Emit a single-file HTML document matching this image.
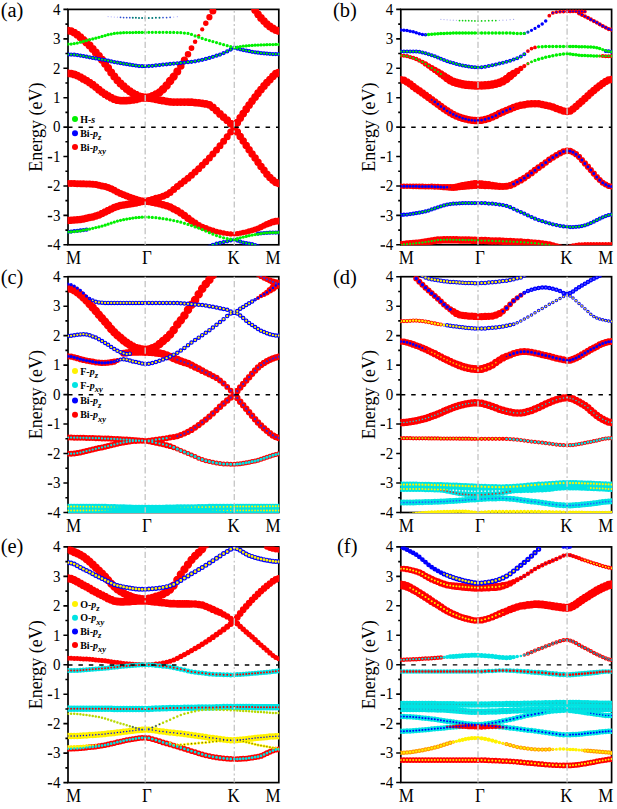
<!DOCTYPE html>
<html><head><meta charset="utf-8"><style>
html,body{margin:0;padding:0;background:#fff;}
svg{display:block;}
text{font-family:"Liberation Serif",serif;fill:#000;}
.tl{font-size:15px;text-anchor:end;}
.xl{font-size:17px;text-anchor:middle;}
.yl{font-size:18px;text-anchor:middle;}
.pl{font-size:20.5px;}
.lg{font-size:10px;font-weight:bold;}
.lg tspan.i{font-style:italic;}
</style></head><body>
<svg width="617" height="809" viewBox="0 0 617 809">
<clipPath id="clipa"><rect x="67.5" y="8.9" width="211.8" height="236.4"/></clipPath>
<rect x="68.0" y="9.4" width="210.8" height="235.4" fill="none" stroke="#000" stroke-width="1.7"/>
<g clip-path="url(#clipa)" stroke-linecap="round" fill="none"><path d="M198.7 35.5h0" stroke="#ff0000" stroke-width="3.25"/>
<path d="M202.2 29.4h0" stroke="#ff0000" stroke-width="4.25"/>
<path d="M195.1 41.7h0" stroke="#ff0000" stroke-width="4.5"/>
<path d="M234.3 233.9h0" stroke="#ff0000" stroke-width="5"/>
<path d="M227.2 233.5h0M230.7 233.9h0M237.3 233.7h0M240.2 233.2h0" stroke="#ff0000" stroke-width="5.25"/>
<path d="M205.8 23.3h0M220.0 232.3h0M223.6 232.9h0M243.2 232.6h0M246.2 231.9h0" stroke="#ff0000" stroke-width="5.5"/>
<path d="M191.5 48.1h0M216.5 231.5h0M249.1 231.1h0M252.1 230.3h0" stroke="#ff0000" stroke-width="5.75"/>
<path d="M212.9 230.6h0M255.1 229.5h0M258.0 228.4h0" stroke="#ff0000" stroke-width="6"/>
<path d="M209.4 17.2h0M209.4 229.5h0M261.0 227.0h0M264.0 225.6h0" stroke="#ff0000" stroke-width="6.25"/>
<path d="M188.0 54.3h0M202.2 226.9h0M205.8 228.3h0M266.9 224.2h0" stroke="#ff0000" stroke-width="6.5"/>
<path d="M198.7 225.3h0M269.9 223.0h0M272.9 221.9h0" stroke="#ff0000" stroke-width="6.75"/>
<path d="M212.9 11.1h0M68.0 183.6h0M71.1 183.6h0M74.2 183.6h0M77.3 183.7h0M80.4 183.7h0M83.4 183.8h0M86.5 183.9h0M89.6 184.0h0M92.7 184.2h0M95.8 184.6h0M98.9 185.2h0M102.0 185.9h0M105.1 186.6h0M108.1 187.5h0M111.2 188.7h0M114.3 190.3h0M117.4 192.0h0M120.5 193.5h0M123.6 194.8h0M126.7 196.1h0M129.8 197.2h0M132.8 198.3h0M135.9 199.3h0M139.0 200.3h0M142.1 201.1h0M145.2 201.3h0M148.8 200.6h0M152.3 199.5h0M155.9 198.3h0M159.5 197.4h0M163.0 196.3h0M166.6 194.8h0M170.1 192.5h0M173.7 189.6h0M177.3 186.6h0M180.8 183.8h0M184.4 181.1h0M188.0 178.2h0M191.5 175.2h0M195.1 172.1h0M198.7 168.8h0M202.2 165.3h0M205.8 161.7h0M209.4 158.0h0M212.9 154.1h0M216.5 150.1h0M220.0 145.8h0M223.6 141.3h0M227.2 136.8h0M230.7 132.0h0M234.3 127.1h0M195.1 223.1h0M275.8 221.2h0M278.8 221.0h0" stroke="#ff0000" stroke-width="7"/>
<path d="M184.4 60.2h0M191.5 220.8h0" stroke="#ff0000" stroke-width="7.25"/>
<path d="M180.8 65.9h0M68.0 220.4h0M71.1 220.3h0M74.2 220.1h0M77.3 219.8h0M80.4 219.4h0M83.4 218.9h0M86.5 218.3h0M89.6 217.6h0M92.7 216.9h0M95.8 216.0h0M98.9 214.9h0M102.0 213.5h0M105.1 212.0h0M108.1 210.4h0M111.2 208.9h0M114.3 207.5h0M117.4 206.4h0M120.5 205.6h0M123.6 205.0h0M126.7 204.5h0M129.8 204.1h0M132.8 203.6h0M135.9 203.0h0M139.0 202.2h0M142.1 201.6h0M145.2 201.3h0M148.8 201.5h0M152.3 202.2h0M155.9 203.0h0M159.5 203.8h0M163.0 204.7h0M166.6 205.7h0M170.1 207.1h0M173.7 208.9h0M177.3 210.8h0M180.8 213.0h0M184.4 215.6h0M188.0 218.3h0M234.3 127.1h0M237.3 131.9h0M240.2 136.5h0M243.2 141.0h0M246.2 145.4h0M249.1 149.7h0M252.1 153.9h0M255.1 158.0h0M258.0 162.3h0M261.0 166.4h0M264.0 170.3h0M266.9 174.2h0M269.9 177.5h0M272.9 180.3h0M275.8 182.6h0M278.8 183.6h0" stroke="#ff0000" stroke-width="7.5"/>
<path d="M68.0 30.6h0M71.1 31.1h0M74.2 32.6h0M77.3 34.7h0M80.4 37.2h0M83.4 39.8h0M68.0 73.3h0M71.1 73.6h0M74.2 74.4h0M77.3 75.6h0M80.4 77.1h0M83.4 78.9h0M86.5 80.6h0M89.6 82.5h0M92.7 84.7h0M95.8 87.1h0M98.9 89.7h0M102.0 92.1h0M105.1 94.2h0M108.1 95.9h0M111.2 97.7h0M114.3 99.2h0M117.4 100.2h0M120.5 100.6h0M123.6 100.7h0M126.7 100.5h0M129.8 100.3h0M132.8 99.9h0M135.9 99.4h0M139.0 98.6h0M142.1 97.9h0M145.2 97.7h0M148.8 98.0h0M152.3 98.6h0M155.9 99.3h0M159.5 100.0h0M163.0 100.7h0M166.6 101.3h0M170.1 101.8h0M173.7 102.0h0M177.3 102.1h0M180.8 102.1h0M184.4 102.0h0M188.0 102.1h0M191.5 102.2h0M195.1 102.5h0M198.7 102.8h0M202.2 103.3h0M205.8 103.9h0M209.4 104.8h0M212.9 107.3h0M216.5 110.6h0M220.0 113.9h0M223.6 117.0h0M227.2 120.2h0M230.7 123.6h0M234.3 127.1h0M234.3 127.1h0M237.3 122.5h0M240.2 117.9h0M243.2 113.5h0M246.2 109.2h0M249.1 105.0h0M252.1 101.0h0M255.1 97.0h0M258.0 93.2h0M261.0 89.5h0M264.0 85.9h0M266.9 82.6h0M269.9 79.5h0M272.9 76.3h0M275.8 73.7h0M278.8 72.7h0M252.1 5.3h0M255.1 10.1h0M258.0 14.3h0M261.0 17.9h0M264.0 21.1h0M266.9 24.0h0M269.9 26.4h0M272.9 28.4h0M275.8 30.1h0M278.8 30.9h0" stroke="#ff0000" stroke-width="7.75"/>
<path d="M86.5 42.5h0M89.6 45.6h0M92.7 48.9h0M95.8 52.5h0M98.9 56.1h0M102.0 59.8h0M105.1 63.8h0M108.1 68.1h0M111.2 72.4h0M114.3 76.5h0M117.4 80.2h0M120.5 83.4h0M123.6 86.3h0M126.7 89.0h0M129.8 91.3h0M132.8 93.3h0M135.9 94.8h0M139.0 96.2h0M177.3 71.4h0" stroke="#ff0000" stroke-width="8"/>
<path d="M142.1 97.2h0M145.2 97.7h0M148.8 97.3h0M152.3 96.1h0M155.9 94.4h0M159.5 92.4h0M173.7 76.6h0" stroke="#ff0000" stroke-width="8.25"/>
<path d="M163.0 89.3h0M166.6 85.4h0M170.1 81.1h0" stroke="#ff0000" stroke-width="8.5"/>
<path d="M68.0 54.4h0M71.1 54.5h0M74.2 54.7h0M77.3 55.1h0M80.4 55.5h0M83.4 56.1h0M86.5 56.7h0M89.6 57.3h0M92.7 57.9h0M95.8 58.4h0M98.9 59.0h0M102.0 59.5h0M105.1 60.1h0M108.1 60.7h0M111.2 61.4h0M114.3 62.0h0M117.4 62.6h0M120.5 63.2h0M123.6 63.7h0M126.7 64.2h0M129.8 64.7h0M132.8 65.2h0M135.9 65.6h0M139.0 66.0h0M142.1 66.2h0M145.2 66.2h0M148.8 66.0h0M152.3 65.8h0M155.9 65.4h0M159.5 65.0h0M163.0 64.6h0M166.6 64.3h0M170.1 63.9h0M173.7 63.6h0M177.3 63.3h0M180.8 62.9h0M184.4 62.6h0M188.0 62.2h0M191.5 61.8h0M195.1 61.3h0M198.7 60.6h0M202.2 59.8h0M205.8 58.9h0M209.4 57.9h0M212.9 56.8h0M216.5 55.7h0M220.0 54.5h0M223.6 53.1h0M227.2 51.4h0M230.7 49.6h0M234.3 47.7h0M234.3 47.7h0M237.3 48.5h0M240.2 49.3h0M243.2 50.0h0M246.2 50.6h0M249.1 51.2h0M252.1 51.8h0M255.1 52.3h0M258.0 52.7h0M261.0 53.0h0M264.0 53.3h0M266.9 53.5h0M269.9 53.8h0M272.9 54.0h0M275.8 54.1h0M278.8 54.1h0M68.0 231.9h0M71.1 231.5h0M74.2 231.1h0M77.3 230.8h0M80.4 230.4h0M83.4 230.0h0M86.5 229.7h0M209.4 246.5h0M212.9 244.8h0M216.5 243.6h0M220.0 242.8h0M223.6 242.0h0M227.2 241.3h0M230.7 240.4h0M234.3 239.5h0M234.3 239.5h0M237.3 240.6h0M240.2 241.6h0M243.2 242.5h0M246.2 243.2h0M249.1 243.7h0M252.1 244.2h0M255.1 245.0h0M258.0 246.3h0M261.0 247.8h0M258.0 233.7h0M261.0 233.3h0M264.0 233.0h0M266.9 232.8h0M269.9 232.7h0M272.9 232.5h0M275.8 232.5h0M278.8 232.4h0" stroke="#0000ff" stroke-width="4.25"/>
<path d="M132.8 17.8h0M135.9 17.8h0M139.0 17.9h0M142.1 17.9h0M145.2 17.9h0M148.8 17.9h0M152.3 17.9h0M155.9 17.8h0M159.5 17.7h0" stroke="#007878" stroke-width="2"/>
<path d="M120.5 17.3h0M123.6 17.5h0M126.7 17.6h0M129.8 17.7h0M163.0 17.6h0M166.6 17.5h0M170.1 17.3h0" stroke="#3050d0" stroke-width="1.75"/>
<path d="M108.1 16.6h0M111.2 16.8h0M114.3 17.0h0M117.4 17.2h0M173.7 17.0h0M177.3 16.7h0" stroke="#b0b0ff" stroke-width="1.25"/>
<path d="M234.3 47.7h0M237.3 48.5h0M240.2 49.3h0M243.2 50.0h0M246.2 50.6h0M249.1 51.2h0M252.1 51.8h0M255.1 52.3h0M258.0 52.7h0M261.0 53.0h0M264.0 53.3h0M266.9 53.5h0M269.9 53.8h0M272.9 54.0h0M275.8 54.1h0M278.8 54.1h0M68.0 54.4h0M71.1 54.5h0M74.2 54.7h0M77.3 55.1h0M80.4 55.5h0M83.4 56.1h0M86.5 56.7h0M89.6 57.3h0M92.7 57.9h0M95.8 58.4h0M98.9 59.0h0M102.0 59.5h0M105.1 60.1h0M108.1 60.7h0M111.2 61.4h0M114.3 62.0h0M117.4 62.6h0M120.5 63.2h0M123.6 63.7h0M126.7 64.2h0M129.8 64.7h0M132.8 65.2h0M135.9 65.6h0M139.0 66.0h0M142.1 66.2h0M145.2 66.2h0M148.8 66.0h0M152.3 65.8h0M155.9 65.4h0M159.5 65.0h0M163.0 64.6h0M166.6 64.3h0M170.1 63.9h0M173.7 63.6h0M177.3 63.3h0M180.8 62.9h0M184.4 62.6h0M188.0 62.2h0M191.5 61.8h0M195.1 61.3h0M198.7 60.6h0M202.2 59.8h0M205.8 58.9h0M209.4 57.9h0M212.9 56.8h0M216.5 55.7h0M220.0 54.5h0M223.6 53.1h0M227.2 51.4h0M230.7 49.6h0M234.3 47.7h0M209.4 246.5h0M212.9 244.8h0M216.5 243.6h0M220.0 242.8h0M223.6 242.0h0M227.2 241.3h0M230.7 240.4h0M234.3 239.5h0M234.3 239.5h0M237.3 240.6h0M240.2 241.6h0M243.2 242.5h0M246.2 243.2h0M249.1 243.7h0M252.1 244.2h0M255.1 245.0h0M258.0 246.3h0M261.0 247.8h0" stroke="#00f000" stroke-width="2.25"/>
<path d="M68.0 44.1h0M71.1 44.0h0M74.2 43.6h0M77.3 43.0h0M80.4 42.2h0M83.4 41.4h0M86.5 40.5h0M89.6 39.7h0M92.7 38.9h0M95.8 38.2h0M98.9 37.3h0M102.0 36.4h0M105.1 35.5h0M108.1 34.7h0M111.2 34.0h0M114.3 33.4h0M117.4 33.0h0M120.5 32.9h0M123.6 32.7h0M126.7 32.6h0M129.8 32.5h0M132.8 32.5h0M135.9 32.4h0M139.0 32.4h0M142.1 32.4h0M145.2 32.4h0M148.8 32.3h0M152.3 32.3h0M155.9 32.3h0M159.5 32.3h0M163.0 32.3h0M166.6 32.3h0M170.1 32.4h0M173.7 32.4h0M177.3 32.5h0M180.8 32.7h0M184.4 33.0h0M188.0 33.4h0M191.5 34.4h0M195.1 35.9h0M198.7 37.2h0M202.2 38.4h0M205.8 39.5h0M209.4 40.5h0M212.9 41.6h0M216.5 42.6h0M220.0 43.7h0M223.6 44.7h0M227.2 45.7h0M230.7 46.7h0M234.3 47.7h0M234.3 47.7h0M237.3 47.1h0M240.2 46.6h0M243.2 46.2h0M246.2 45.9h0M249.1 45.6h0M252.1 45.4h0M255.1 45.2h0M258.0 45.0h0M261.0 44.9h0M264.0 44.8h0M266.9 44.7h0M269.9 44.6h0M272.9 44.5h0M275.8 44.4h0M278.8 44.4h0M68.0 231.9h0M71.1 231.8h0M74.2 231.6h0M77.3 231.2h0M80.4 230.8h0M83.4 230.2h0M86.5 229.6h0M89.6 229.0h0M92.7 228.3h0M95.8 227.6h0M98.9 226.9h0M102.0 226.1h0M105.1 225.2h0M108.1 224.2h0M111.2 223.1h0M114.3 222.1h0M117.4 221.1h0M120.5 220.3h0M123.6 219.7h0M126.7 219.1h0M129.8 218.6h0M132.8 218.1h0M135.9 217.7h0M139.0 217.4h0M142.1 217.2h0M145.2 217.1h0M148.8 217.2h0M152.3 217.4h0M155.9 217.7h0M159.5 218.2h0M163.0 218.7h0M166.6 219.2h0M170.1 219.8h0M173.7 220.5h0M177.3 221.3h0M180.8 222.2h0M184.4 223.3h0M188.0 224.4h0M191.5 225.6h0M195.1 226.9h0M198.7 228.1h0M202.2 229.5h0M205.8 231.1h0M209.4 232.7h0M212.9 234.2h0M216.5 235.5h0M220.0 236.7h0M223.6 237.8h0M227.2 238.6h0M230.7 239.2h0M234.3 239.5h0M234.3 239.5h0M237.3 238.7h0M240.2 237.8h0M243.2 237.1h0M246.2 236.4h0M249.1 235.7h0M252.1 235.1h0M255.1 234.5h0M258.0 234.0h0M261.0 233.5h0M264.0 233.1h0M266.9 232.8h0M269.9 232.7h0M272.9 232.5h0M275.8 232.5h0M278.8 232.4h0" stroke="#00f000" stroke-width="3.25"/></g>
<g><line x1="145.2" y1="9.4" x2="145.2" y2="244.8" stroke="#c8c8c8" stroke-width="1.4" stroke-dasharray="6.2 2.7 1.9 2.5" stroke-dashoffset="7.5"/>
<line x1="234.3" y1="9.4" x2="234.3" y2="244.8" stroke="#c8c8c8" stroke-width="1.4" stroke-dasharray="6.2 2.7 1.9 2.5" stroke-dashoffset="7.5"/>
<line x1="68.0" y1="127.3" x2="278.8" y2="127.3" stroke="#000" stroke-width="1.4" stroke-dasharray="4.5 5.9"/></g>

<circle cx="75.0" cy="118.9" r="3.0" fill="#00f000"/>
<text x="80.2" y="122.5" class="lg">H-<tspan class="i">s</tspan></text>
<circle cx="75.0" cy="133.3" r="3.0" fill="#0000ff"/>
<text x="80.2" y="136.9" class="lg">Bi-<tspan class="i">p</tspan><tspan class="i" dy="3.3" style="font-size:8.5px">z</tspan></text>
<circle cx="75.0" cy="147.1" r="3.0" fill="#ff0000"/>
<text x="80.2" y="150.7" class="lg">Bi-<tspan class="i">p</tspan><tspan class="i" dy="3.3" style="font-size:8.5px">xy</tspan></text>
<path d="M63.4 244.80h4.6M65.4 230.09h2.6M63.4 215.38h4.6M65.4 200.66h2.6M63.4 185.95h4.6M65.4 171.24h2.6M63.4 156.53h4.6M65.4 141.81h2.6M63.4 127.10h4.6M65.4 112.39h2.6M63.4 97.68h4.6M65.4 82.96h2.6M63.4 68.25h4.6M65.4 53.54h2.6M63.4 38.83h4.6M65.4 24.11h2.6M63.4 9.40h4.6" stroke="#000" stroke-width="1.6"/>
<text transform="translate(60.4 250.0) scale(1 1.08)" class="tl">4</text>
<rect x="47.8" y="245.2" width="4.4" height="1.5"/>
<text transform="translate(60.4 220.6) scale(1 1.08)" class="tl">3</text>
<rect x="47.8" y="215.8" width="4.4" height="1.5"/>
<text transform="translate(60.4 191.2) scale(1 1.08)" class="tl">2</text>
<rect x="47.8" y="186.4" width="4.4" height="1.5"/>
<text transform="translate(60.4 161.7) scale(1 1.08)" class="tl">1</text>
<rect x="47.8" y="156.9" width="4.4" height="1.5"/>
<text transform="translate(60.4 132.3) scale(1 1.08)" class="tl">0</text>
<text transform="translate(60.4 102.9) scale(1 1.08)" class="tl">1</text>
<text transform="translate(60.4 73.5) scale(1 1.08)" class="tl">2</text>
<text transform="translate(60.4 44.0) scale(1 1.08)" class="tl">3</text>
<text transform="translate(60.4 14.6) scale(1 1.08)" class="tl">4</text>
<text transform="translate(73.6 264.2) scale(1 1.06)" class="xl">M</text>
<text transform="translate(147.0 264.2) scale(1 1.06)" class="xl">&#915;</text>
<text transform="translate(233.6 264.2) scale(1 1.06)" class="xl">K</text>
<text transform="translate(273.0 264.2) scale(1 1.06)" class="xl">M</text>
<text transform="translate(41.8 127.1) rotate(-90)" class="yl">Energy (eV)</text>
<text x="0.7" y="16.7" class="pl">(a)</text>
<clipPath id="clipb"><rect x="400.3" y="8.9" width="211.8" height="236.4"/></clipPath>
<rect x="400.8" y="9.4" width="210.8" height="235.4" fill="none" stroke="#000" stroke-width="1.7"/>
<g clip-path="url(#clipb)" stroke-linecap="round" fill="none"><path d="M538.6 46.8h0M538.6 59.2h0" stroke="#ff0000" stroke-width="0.5"/>
<path d="M535.0 60.4h0" stroke="#ff0000" stroke-width="1.5"/>
<path d="M531.5 61.9h0" stroke="#ff0000" stroke-width="2.25"/>
<path d="M599.7 56.1h0" stroke="#ff0000" stroke-width="3"/>
<path d="M527.9 63.7h0" stroke="#ff0000" stroke-width="3.25"/>
<path d="M549.3 15.7h0M552.8 12.9h0M556.4 12.0h0M560.0 11.7h0M563.5 11.6h0M567.1 11.4h0M570.1 11.4h0M573.0 11.3h0M576.0 11.3h0M579.0 11.3h0M581.9 11.4h0M584.9 11.6h0M527.9 51.0h0M531.5 48.6h0M535.0 47.4h0" stroke="#ff0000" stroke-width="3.75"/>
<path d="M400.8 55.6h0M403.9 55.8h0M602.7 56.1h0M605.7 56.2h0M608.6 56.2h0M611.6 56.2h0M563.5 248.3h0M567.1 247.1h0M570.1 246.2h0M573.0 245.3h0M576.0 244.7h0M579.0 244.3h0M581.9 244.2h0M584.9 244.1h0M587.9 244.1h0M590.8 244.1h0M593.8 244.0h0M596.8 244.0h0M599.7 244.0h0M602.7 244.0h0M605.7 243.9h0M608.6 243.9h0M611.6 243.9h0" stroke="#ff0000" stroke-width="4"/>
<path d="M579.0 13.3h0M581.9 14.8h0M584.9 16.3h0M587.9 17.8h0M590.8 19.4h0M593.8 21.0h0M596.8 22.6h0M599.7 24.3h0M602.7 26.0h0M605.7 27.5h0M608.6 29.0h0M611.6 29.7h0M407.0 56.2h0M410.1 57.0h0M413.2 57.9h0M524.3 66.0h0" stroke="#ff0000" stroke-width="4.25"/>
<path d="M416.2 59.0h0M419.3 60.4h0" stroke="#ff0000" stroke-width="4.5"/>
<path d="M422.4 62.0h0" stroke="#ff0000" stroke-width="4.75"/>
<path d="M425.5 63.9h0M520.8 68.4h0" stroke="#ff0000" stroke-width="5.25"/>
<path d="M428.6 65.9h0M400.8 186.2h0M403.9 186.2h0M407.0 186.3h0M410.1 186.3h0" stroke="#ff0000" stroke-width="5.5"/>
<path d="M413.2 186.3h0M416.2 186.3h0M419.3 186.4h0M422.4 186.4h0M425.5 186.5h0M428.6 186.5h0" stroke="#ff0000" stroke-width="5.75"/>
<path d="M431.7 67.9h0M431.7 186.6h0M434.8 186.7h0M437.9 186.8h0M440.9 187.0h0M599.7 180.1h0M602.7 182.7h0M605.7 184.6h0M608.6 186.0h0M611.6 186.5h0" stroke="#ff0000" stroke-width="6"/>
<path d="M434.8 69.9h0M444.0 187.2h0M573.0 152.3h0M576.0 154.2h0M579.0 156.8h0M581.9 160.0h0M584.9 163.4h0M587.9 166.7h0M590.8 170.1h0M593.8 173.6h0M596.8 177.0h0" stroke="#ff0000" stroke-width="6.25"/>
<path d="M517.2 70.9h0M447.1 187.3h0M545.7 162.4h0M549.3 159.8h0M552.8 157.4h0M556.4 155.2h0M560.0 153.3h0M563.5 151.6h0M567.1 150.7h0M570.1 151.0h0" stroke="#ff0000" stroke-width="6.5"/>
<path d="M437.9 71.8h0M450.2 187.4h0M517.2 182.1h0M520.8 180.2h0M524.3 178.1h0M527.9 175.6h0M531.5 172.9h0M535.0 170.2h0M538.6 167.6h0M542.2 165.0h0" stroke="#ff0000" stroke-width="6.75"/>
<path d="M453.3 187.4h0M502.9 186.5h0M506.5 186.3h0M510.1 185.4h0M513.6 183.9h0" stroke="#ff0000" stroke-width="7"/>
<path d="M440.9 73.9h0M456.4 187.1h0M499.4 186.3h0" stroke="#ff0000" stroke-width="7.25"/>
<path d="M444.0 76.1h0M513.6 73.4h0M400.8 79.7h0M403.9 80.3h0M407.0 81.9h0M410.1 84.1h0M413.2 86.5h0M416.2 88.7h0M419.3 90.8h0M422.4 93.0h0M425.5 95.2h0M428.6 97.5h0M431.7 99.7h0M434.8 101.9h0M437.9 104.2h0M440.9 106.5h0M444.0 108.7h0M447.1 110.8h0M450.2 112.7h0M453.3 114.4h0M456.4 115.9h0M459.5 117.2h0M462.6 118.3h0M465.6 119.1h0M468.7 119.8h0M471.8 120.3h0M474.9 120.6h0M478.0 120.6h0M481.6 120.2h0M485.1 119.4h0M488.7 118.4h0M492.3 117.1h0M495.8 115.5h0M499.4 113.6h0M502.9 111.9h0M506.5 110.4h0M510.1 108.9h0M513.6 107.5h0M517.2 106.2h0M520.8 105.3h0M524.3 104.7h0M527.9 104.1h0M531.5 103.8h0M535.0 103.7h0M538.6 103.8h0M542.2 104.4h0M545.7 105.2h0M549.3 106.1h0M552.8 107.1h0M556.4 108.4h0M560.0 109.7h0M563.5 110.9h0M567.1 111.5h0M570.1 110.9h0M573.0 109.1h0M576.0 106.5h0M579.0 103.7h0M581.9 101.2h0M584.9 98.5h0M587.9 95.8h0M590.8 93.0h0M593.8 90.4h0M596.8 88.1h0M599.7 85.8h0M602.7 83.5h0M605.7 81.5h0M608.6 80.1h0M611.6 79.5h0M459.5 186.6h0M495.8 185.9h0M400.8 244.8h0M403.9 244.4h0M407.0 244.0h0M410.1 243.8h0M413.2 243.5h0M416.2 243.2h0M419.3 242.9h0M422.4 242.5h0M425.5 242.0h0M428.6 241.5h0M431.7 241.0h0M434.8 240.5h0M437.9 240.1h0M440.9 239.9h0M444.0 239.8h0M447.1 239.7h0M450.2 239.7h0M453.3 239.8h0M456.4 239.8h0M459.5 239.9h0M462.6 239.9h0M465.6 240.0h0M468.7 240.1h0M471.8 240.2h0M474.9 240.3h0M478.0 240.4h0M481.6 240.5h0M485.1 240.6h0M488.7 240.7h0M492.3 240.9h0M495.8 241.0h0M499.4 241.1h0M502.9 241.3h0M506.5 241.4h0M510.1 241.6h0M513.6 241.8h0M517.2 241.9h0M520.8 242.1h0M524.3 242.4h0M527.9 242.6h0M531.5 242.9h0M535.0 243.2h0M538.6 243.6h0M542.2 244.0h0M545.7 244.5h0M549.3 245.0h0M552.8 245.9h0M556.4 246.9h0M560.0 248.1h0" stroke="#ff0000" stroke-width="7.5"/>
<path d="M492.3 185.5h0" stroke="#ff0000" stroke-width="7.75"/>
<path d="M447.1 78.2h0M462.6 186.1h0" stroke="#ff0000" stroke-width="8"/>
<path d="M465.6 185.7h0M488.7 185.2h0" stroke="#ff0000" stroke-width="8.25"/>
<path d="M450.2 80.2h0M453.3 81.7h0M456.4 82.8h0M459.5 83.6h0M462.6 84.3h0M465.6 84.7h0M468.7 85.0h0M471.8 85.3h0M474.9 85.5h0M478.0 85.6h0M481.6 85.5h0M485.1 85.3h0M488.7 84.9h0M492.3 84.6h0M495.8 83.8h0M499.4 82.7h0M502.9 81.3h0M506.5 79.1h0M510.1 76.1h0M468.7 185.3h0M485.1 184.9h0" stroke="#ff0000" stroke-width="8.5"/>
<path d="M471.8 184.9h0M481.6 184.6h0" stroke="#ff0000" stroke-width="8.75"/>
<path d="M474.9 184.6h0" stroke="#ff0000" stroke-width="9"/>
<path d="M478.0 184.5h0" stroke="#ff0000" stroke-width="9.25"/>
<path d="M549.3 15.7h0" stroke="#0000ff" stroke-width="0.5"/>
<path d="M450.2 187.4h0M510.1 185.4h0" stroke="#0000ff" stroke-width="1"/>
<path d="M527.9 51.0h0M513.6 107.5h0" stroke="#0000ff" stroke-width="1.25"/>
<path d="M552.8 12.9h0M556.4 12.0h0M560.0 11.7h0M563.5 11.6h0M567.1 11.4h0M570.1 11.4h0M573.0 11.3h0M576.0 11.3h0M579.0 11.3h0M581.9 11.4h0M584.9 11.6h0M579.0 13.3h0" stroke="#0000ff" stroke-width="1.75"/>
<path d="M428.6 34.6h0M581.9 14.8h0M584.9 16.3h0M431.7 99.7h0" stroke="#0000ff" stroke-width="2"/>
<path d="M587.9 17.8h0" stroke="#0000ff" stroke-width="2.25"/>
<path d="M590.8 19.4h0M593.8 21.0h0M596.8 22.6h0M599.7 24.3h0M602.7 26.0h0M605.7 27.5h0M608.6 29.0h0M611.6 29.7h0M447.1 187.3h0" stroke="#0000ff" stroke-width="2.5"/>
<path d="M434.8 101.9h0M437.9 104.2h0M440.9 106.5h0M444.0 108.7h0M447.1 110.8h0M450.2 112.7h0M453.3 114.4h0M456.4 115.9h0M459.5 117.2h0M462.6 118.3h0M465.6 119.1h0M468.7 119.8h0M471.8 120.3h0M474.9 120.6h0M478.0 120.6h0M481.6 120.2h0M485.1 119.4h0M488.7 118.4h0M492.3 117.1h0M495.8 115.5h0M499.4 113.6h0M502.9 111.9h0M506.5 110.4h0M510.1 108.9h0" stroke="#0000ff" stroke-width="2.75"/>
<path d="M400.8 186.2h0M403.9 186.2h0M407.0 186.3h0M410.1 186.3h0M413.2 186.3h0M416.2 186.3h0M419.3 186.4h0M422.4 186.4h0M425.5 186.5h0M428.6 186.5h0M431.7 186.6h0M434.8 186.7h0M437.9 186.8h0M440.9 187.0h0M444.0 187.2h0M513.6 183.9h0M517.2 182.1h0M520.8 180.2h0M524.3 178.1h0M527.9 175.6h0M531.5 172.9h0M535.0 170.2h0M538.6 167.6h0M542.2 165.0h0M545.7 162.4h0M549.3 159.8h0M552.8 157.4h0M556.4 155.2h0M560.0 153.3h0M563.5 151.6h0M567.1 150.7h0M570.1 151.0h0M573.0 152.3h0M576.0 154.2h0M579.0 156.8h0M581.9 160.0h0M584.9 163.4h0M587.9 166.7h0M590.8 170.1h0M593.8 173.6h0M596.8 177.0h0M599.7 180.1h0M602.7 182.7h0M605.7 184.6h0M608.6 186.0h0M611.6 186.5h0" stroke="#0000ff" stroke-width="3"/>
<path d="M524.3 33.4h0M527.9 32.0h0M531.5 30.3h0M535.0 28.4h0" stroke="#0000ff" stroke-width="3.25"/>
<path d="M400.8 30.0h0M403.9 30.2h0M407.0 30.6h0M410.1 31.2h0M413.2 31.8h0M416.2 32.7h0M419.3 33.7h0M422.4 34.5h0M425.5 34.7h0M538.6 26.3h0M542.2 23.9h0M545.7 20.9h0" stroke="#0000ff" stroke-width="3.5"/>
<path d="M400.8 51.5h0M403.9 51.5h0M407.0 51.5h0M410.1 51.5h0M413.2 51.5h0M416.2 51.5h0M419.3 51.8h0M422.4 52.4h0M425.5 53.3h0M428.6 54.3h0M431.7 55.3h0M434.8 56.3h0M437.9 57.5h0M440.9 58.8h0M444.0 60.1h0M447.1 61.2h0M450.2 62.2h0M453.3 63.0h0M456.4 63.9h0M459.5 64.7h0M462.6 65.4h0M465.6 66.1h0M468.7 66.6h0M471.8 67.0h0M474.9 67.3h0M478.0 67.4h0M481.6 67.2h0M485.1 66.8h0M488.7 66.1h0M492.3 65.3h0M495.8 64.5h0M499.4 63.6h0M502.9 62.7h0M506.5 61.8h0M510.1 60.8h0M513.6 59.5h0M517.2 58.2h0M520.8 56.6h0M524.3 54.2h0M605.7 51.1h0M608.6 51.3h0M611.6 51.7h0" stroke="#0000ff" stroke-width="4"/>
<path d="M400.8 214.8h0M403.9 214.7h0M407.0 214.5h0M410.1 214.1h0M413.2 213.7h0M416.2 213.2h0M419.3 212.7h0M422.4 212.1h0M425.5 211.4h0M428.6 210.5h0M431.7 209.4h0M434.8 208.4h0M437.9 207.3h0M440.9 206.3h0M444.0 205.4h0M447.1 204.6h0M450.2 204.1h0M453.3 203.7h0M456.4 203.5h0M459.5 203.3h0M462.6 203.2h0M465.6 203.1h0M468.7 203.0h0M471.8 203.0h0M474.9 203.0h0M478.0 203.0h0M481.6 203.1h0M485.1 203.2h0M488.7 203.5h0M492.3 203.7h0M495.8 204.1h0M499.4 204.5h0M502.9 205.0h0M506.5 205.9h0M510.1 207.2h0M513.6 208.8h0M517.2 210.5h0M520.8 212.1h0M524.3 213.7h0M527.9 215.4h0M531.5 217.1h0M535.0 218.7h0M538.6 220.0h0M542.2 221.2h0M545.7 222.3h0M549.3 223.3h0M552.8 224.3h0M556.4 225.1h0M560.0 225.8h0M563.5 226.4h0M567.1 226.8h0M570.1 227.0h0M573.0 227.0h0M576.0 226.8h0M579.0 226.5h0M581.9 226.0h0M584.9 225.3h0M587.9 224.3h0M590.8 223.1h0M593.8 221.7h0M596.8 220.2h0M599.7 218.7h0M602.7 217.3h0M605.7 216.0h0M608.6 215.1h0M611.6 214.6h0" stroke="#0000ff" stroke-width="4.25"/>
<path d="M459.5 20.5h0M462.6 20.6h0M465.6 20.7h0M468.7 20.7h0M471.8 20.8h0M474.9 20.9h0M478.0 20.9h0M481.6 20.9h0M485.1 20.8h0M488.7 20.7h0M492.3 20.6h0M495.8 20.5h0" stroke="#10d010" stroke-width="1.75"/>
<path d="M440.9 19.3h0M444.0 19.5h0M447.1 19.8h0M450.2 20.0h0M453.3 20.2h0M456.4 20.3h0M499.4 20.4h0M502.9 20.2h0M506.5 20.0h0M510.1 19.7h0M513.6 19.4h0" stroke="#a8a8f0" stroke-width="1.25"/>
<path d="M444.0 76.1h0" stroke="#00f000" stroke-width="0.75"/>
<path d="M425.5 34.7h0" stroke="#00f000" stroke-width="1.25"/>
<path d="M527.9 32.0h0M400.8 214.8h0M403.9 214.7h0" stroke="#00f000" stroke-width="1.5"/>
<path d="M407.0 214.5h0M410.1 214.1h0" stroke="#00f000" stroke-width="1.75"/>
<path d="M400.8 55.6h0M403.9 55.8h0M407.0 56.2h0M410.1 57.0h0M413.2 57.9h0M416.2 59.0h0M419.3 60.4h0M422.4 62.0h0M425.5 63.9h0M428.6 65.9h0M431.7 67.9h0M434.8 69.9h0M437.9 71.8h0M440.9 73.9h0M413.2 213.7h0M416.2 213.2h0" stroke="#00f000" stroke-width="2"/>
<path d="M400.8 51.5h0M403.9 51.5h0M407.0 51.5h0M410.1 51.5h0M413.2 51.5h0M416.2 51.5h0M419.3 51.8h0M422.4 52.4h0M425.5 53.3h0M428.6 54.3h0M431.7 55.3h0M434.8 56.3h0M437.9 57.5h0M440.9 58.8h0M444.0 60.1h0M447.1 61.2h0M450.2 62.2h0M453.3 63.0h0M456.4 63.9h0M459.5 64.7h0M462.6 65.4h0M465.6 66.1h0M468.7 66.6h0M471.8 67.0h0M474.9 67.3h0M478.0 67.4h0M481.6 67.2h0M485.1 66.8h0M488.7 66.1h0M492.3 65.3h0M495.8 64.5h0M499.4 63.6h0M502.9 62.7h0M506.5 61.8h0M510.1 60.8h0M513.6 59.5h0M517.2 58.2h0M520.8 56.6h0M524.3 54.2h0M527.9 63.7h0M602.7 56.1h0M605.7 56.2h0M608.6 56.2h0M611.6 56.2h0M419.3 212.7h0M422.4 212.1h0M425.5 211.4h0M428.6 210.5h0M431.7 209.4h0M434.8 208.4h0M437.9 207.3h0M440.9 206.3h0M444.0 205.4h0M447.1 204.6h0M450.2 204.1h0M453.3 203.7h0M456.4 203.5h0M459.5 203.3h0M462.6 203.2h0M465.6 203.1h0M468.7 203.0h0M471.8 203.0h0M474.9 203.0h0M478.0 203.0h0M481.6 203.1h0M485.1 203.2h0M488.7 203.5h0M492.3 203.7h0M495.8 204.1h0M499.4 204.5h0M502.9 205.0h0M506.5 205.9h0M510.1 207.2h0M513.6 208.8h0M517.2 210.5h0M520.8 212.1h0M524.3 213.7h0M527.9 215.4h0M531.5 217.1h0M535.0 218.7h0M538.6 220.0h0M542.2 221.2h0M545.7 222.3h0M549.3 223.3h0M552.8 224.3h0M556.4 225.1h0M560.0 225.8h0M563.5 226.4h0M567.1 226.8h0M570.1 227.0h0M573.0 227.0h0M576.0 226.8h0M579.0 226.5h0M581.9 226.0h0M584.9 225.3h0M587.9 224.3h0M590.8 223.1h0M593.8 221.7h0M596.8 220.2h0M599.7 218.7h0M602.7 217.3h0M605.7 216.0h0M608.6 215.1h0M611.6 214.6h0M400.8 244.8h0M403.9 244.4h0M407.0 244.0h0M410.1 243.8h0M413.2 243.5h0M416.2 243.2h0M419.3 242.9h0M422.4 242.5h0M425.5 242.0h0M428.6 241.5h0M431.7 241.0h0M434.8 240.5h0M437.9 240.1h0M440.9 239.9h0M444.0 239.8h0M447.1 239.7h0M450.2 239.7h0M453.3 239.8h0M456.4 239.8h0M459.5 239.9h0M462.6 239.9h0M465.6 240.0h0M468.7 240.1h0M471.8 240.2h0M474.9 240.3h0M478.0 240.4h0M481.6 240.5h0M485.1 240.6h0M488.7 240.7h0M492.3 240.9h0M495.8 241.0h0M499.4 241.1h0M502.9 241.3h0M506.5 241.4h0M510.1 241.6h0M513.6 241.8h0M517.2 241.9h0M520.8 242.1h0M524.3 242.4h0M527.9 242.6h0M531.5 242.9h0M535.0 243.2h0M538.6 243.6h0M542.2 244.0h0M545.7 244.5h0M549.3 245.0h0M552.8 245.9h0M556.4 246.9h0M560.0 248.1h0" stroke="#00f000" stroke-width="2.25"/>
<path d="M599.7 56.1h0" stroke="#00f000" stroke-width="2.5"/>
<path d="M531.5 61.9h0" stroke="#00f000" stroke-width="2.75"/>
<path d="M524.3 33.4h0M605.7 50.4h0M608.6 51.2h0M611.6 51.7h0" stroke="#00f000" stroke-width="3"/>
<path d="M538.6 46.8h0M602.7 49.5h0M535.0 60.4h0" stroke="#00f000" stroke-width="3.25"/>
<path d="M428.6 34.6h0M431.7 34.3h0M434.8 34.0h0M437.9 33.7h0M440.9 33.5h0M444.0 33.4h0M447.1 33.3h0M450.2 33.2h0M453.3 33.1h0M456.4 33.0h0M459.5 32.9h0M462.6 32.9h0M465.6 32.9h0M468.7 32.9h0M471.8 32.9h0M474.9 32.9h0M478.0 32.9h0M481.6 32.9h0M485.1 32.9h0M488.7 32.9h0M492.3 32.9h0M495.8 32.9h0M499.4 32.9h0M502.9 32.9h0M506.5 33.0h0M510.1 33.1h0M513.6 33.3h0M517.2 33.4h0M520.8 33.5h0M542.2 46.7h0M545.7 46.6h0M549.3 46.6h0M552.8 46.5h0M556.4 46.5h0M560.0 46.5h0M563.5 46.5h0M567.1 46.5h0M570.1 46.5h0M573.0 46.6h0M576.0 46.6h0M579.0 46.7h0M581.9 46.7h0M584.9 46.8h0M587.9 46.9h0M590.8 47.0h0M593.8 47.2h0M596.8 47.7h0M599.7 48.5h0M538.6 59.2h0M542.2 58.2h0M545.7 57.3h0M549.3 56.4h0M552.8 55.7h0M556.4 55.1h0M560.0 54.5h0M563.5 54.0h0M567.1 53.8h0M570.1 54.0h0M573.0 54.4h0M576.0 54.8h0M579.0 55.2h0M581.9 55.5h0M584.9 55.6h0M587.9 55.7h0M590.8 55.8h0M593.8 55.9h0M596.8 56.0h0" stroke="#00f000" stroke-width="3.5"/></g>
<g><line x1="478.0" y1="9.4" x2="478.0" y2="244.8" stroke="#c8c8c8" stroke-width="1.4" stroke-dasharray="6.2 2.7 1.9 2.5" stroke-dashoffset="7.5"/>
<line x1="567.1" y1="9.4" x2="567.1" y2="244.8" stroke="#c8c8c8" stroke-width="1.4" stroke-dasharray="6.2 2.7 1.9 2.5" stroke-dashoffset="7.5"/>
<line x1="400.8" y1="127.3" x2="611.6" y2="127.3" stroke="#000" stroke-width="1.4" stroke-dasharray="4.5 5.9"/></g>


<path d="M396.2 244.80h4.6M398.2 230.09h2.6M396.2 215.38h4.6M398.2 200.66h2.6M396.2 185.95h4.6M398.2 171.24h2.6M396.2 156.53h4.6M398.2 141.81h2.6M396.2 127.10h4.6M398.2 112.39h2.6M396.2 97.68h4.6M398.2 82.96h2.6M396.2 68.25h4.6M398.2 53.54h2.6M396.2 38.83h4.6M398.2 24.11h2.6M396.2 9.40h4.6" stroke="#000" stroke-width="1.6"/>
<text transform="translate(393.2 250.0) scale(1 1.08)" class="tl">4</text>
<rect x="380.6" y="245.2" width="4.4" height="1.5"/>
<text transform="translate(393.2 220.6) scale(1 1.08)" class="tl">3</text>
<rect x="380.6" y="215.8" width="4.4" height="1.5"/>
<text transform="translate(393.2 191.2) scale(1 1.08)" class="tl">2</text>
<rect x="380.6" y="186.4" width="4.4" height="1.5"/>
<text transform="translate(393.2 161.7) scale(1 1.08)" class="tl">1</text>
<rect x="380.6" y="156.9" width="4.4" height="1.5"/>
<text transform="translate(393.2 132.3) scale(1 1.08)" class="tl">0</text>
<text transform="translate(393.2 102.9) scale(1 1.08)" class="tl">1</text>
<text transform="translate(393.2 73.5) scale(1 1.08)" class="tl">2</text>
<text transform="translate(393.2 44.0) scale(1 1.08)" class="tl">3</text>
<text transform="translate(393.2 14.6) scale(1 1.08)" class="tl">4</text>
<text transform="translate(406.4 264.2) scale(1 1.06)" class="xl">M</text>
<text transform="translate(479.8 264.2) scale(1 1.06)" class="xl">&#915;</text>
<text transform="translate(566.4 264.2) scale(1 1.06)" class="xl">K</text>
<text transform="translate(605.8 264.2) scale(1 1.06)" class="xl">M</text>
<text transform="translate(374.6 127.1) rotate(-90)" class="yl">Energy (eV)</text>
<text x="333.0" y="17.0" class="pl">(b)</text>
<clipPath id="clipc"><rect x="67.5" y="276.2" width="211.8" height="236.8"/></clipPath>
<rect x="68.0" y="276.7" width="210.8" height="235.8" fill="none" stroke="#000" stroke-width="1.7"/>
<g clip-path="url(#clipc)" stroke-linecap="round" fill="none"><path d="M120.5 359.5h0" stroke="#ff0000" stroke-width="2.25"/>
<path d="M255.1 299.7h0" stroke="#ff0000" stroke-width="2.5"/>
<path d="M258.0 297.9h0" stroke="#ff0000" stroke-width="4"/>
<path d="M261.0 296.1h0" stroke="#ff0000" stroke-width="4.5"/>
<path d="M258.0 274.5h0M117.4 360.4h0M177.3 448.9h0M180.8 450.4h0M184.4 452.0h0M188.0 453.5h0M191.5 455.0h0M195.1 456.6h0M198.7 458.2h0M202.2 459.6h0M205.8 460.8h0M209.4 461.6h0M212.9 462.3h0M216.5 463.0h0M220.0 463.5h0M223.6 463.9h0M227.2 464.1h0M230.7 464.2h0M234.3 464.2h0M237.3 464.0h0M240.2 463.7h0M243.2 463.3h0M246.2 462.8h0M249.1 462.2h0M252.1 461.6h0M255.1 461.0h0M258.0 460.2h0M261.0 459.3h0M264.0 458.3h0M266.9 457.3h0M269.9 456.3h0M272.9 455.3h0M275.8 454.4h0M278.8 453.7h0" stroke="#ff0000" stroke-width="5"/>
<path d="M261.0 276.4h0M264.0 278.0h0M264.0 294.3h0" stroke="#ff0000" stroke-width="5.25"/>
<path d="M266.9 279.3h0M234.3 394.5h0M173.7 447.4h0" stroke="#ff0000" stroke-width="5.5"/>
<path d="M227.2 386.9h0M230.7 390.5h0M266.9 292.5h0M170.1 446.2h0" stroke="#ff0000" stroke-width="5.75"/>
<path d="M269.9 280.5h0M220.0 380.4h0M223.6 383.5h0M68.0 437.6h0M71.1 437.6h0M74.2 437.7h0M77.3 437.7h0M80.4 437.8h0M83.4 437.8h0M86.5 437.9h0M89.6 438.0h0M92.7 438.1h0M95.8 438.2h0M98.9 438.2h0M102.0 438.4h0M105.1 438.5h0M108.1 438.6h0M111.2 438.8h0M114.3 438.9h0M117.4 439.1h0M120.5 439.3h0M123.6 439.5h0M126.7 439.6h0M129.8 439.8h0M132.8 440.0h0M135.9 440.3h0M139.0 440.6h0M142.1 440.8h0M145.2 440.9h0M148.8 440.7h0M152.3 440.3h0M155.9 439.7h0M159.5 439.2h0M163.0 438.7h0M166.6 438.2h0M170.1 437.6h0M173.7 437.0h0M177.3 436.2h0M180.8 435.0h0M184.4 433.5h0M68.0 453.8h0M71.1 453.7h0M74.2 453.5h0M77.3 453.0h0M80.4 452.5h0M83.4 451.8h0M86.5 451.1h0M89.6 450.3h0M92.7 449.5h0M95.8 448.8h0M98.9 448.0h0M102.0 447.4h0M105.1 446.7h0M108.1 446.0h0M111.2 445.2h0M114.3 444.5h0M117.4 443.7h0M120.5 443.0h0M123.6 442.4h0M126.7 441.9h0M129.8 441.5h0M132.8 441.1h0M135.9 440.9h0M139.0 440.7h0M142.1 440.7h0M145.2 440.9h0M148.8 441.3h0M152.3 442.0h0M155.9 442.8h0M159.5 443.5h0M163.0 444.3h0M166.6 445.2h0" stroke="#ff0000" stroke-width="6"/>
<path d="M212.9 376.0h0M216.5 377.9h0M68.0 356.3h0M71.1 356.6h0M74.2 357.3h0M77.3 358.2h0M80.4 359.2h0M83.4 359.9h0M86.5 360.5h0M89.6 361.1h0M92.7 361.7h0M95.8 362.3h0M98.9 362.6h0M102.0 362.9h0M105.1 362.8h0M108.1 362.6h0M111.2 362.2h0M114.3 361.5h0M188.0 431.8h0M191.5 429.9h0M195.1 427.6h0M198.7 425.1h0M202.2 422.3h0M205.8 419.5h0M209.4 416.6h0M212.9 413.4h0M216.5 410.1h0" stroke="#ff0000" stroke-width="6.25"/>
<path d="M205.8 372.6h0M209.4 374.3h0M237.3 391.0h0M240.2 387.4h0M243.2 383.9h0M246.2 380.6h0M249.1 377.2h0M252.1 373.8h0M255.1 370.5h0M258.0 367.5h0M261.0 365.0h0M264.0 363.0h0M266.9 361.3h0M269.9 359.8h0M272.9 358.5h0M275.8 357.5h0M278.8 356.7h0M269.9 290.3h0M220.0 406.7h0M223.6 403.5h0M227.2 400.4h0M230.7 397.5h0M234.3 394.7h0M237.3 398.1h0M240.2 401.7h0M243.2 405.2h0M246.2 408.7h0M249.1 412.2h0M252.1 415.7h0M255.1 419.2h0M258.0 422.5h0M261.0 425.5h0M264.0 428.2h0M266.9 430.8h0M269.9 433.2h0M272.9 435.4h0M275.8 437.1h0M278.8 438.1h0" stroke="#ff0000" stroke-width="6.5"/>
<path d="M272.9 281.8h0M202.2 370.7h0" stroke="#ff0000" stroke-width="6.75"/>
<path d="M123.6 353.2h0M198.7 368.8h0" stroke="#ff0000" stroke-width="7"/>
<path d="M126.7 352.8h0M129.8 352.4h0M132.8 352.2h0M135.9 352.1h0M139.0 352.1h0M191.5 365.2h0M195.1 367.0h0M272.9 288.1h0" stroke="#ff0000" stroke-width="7.25"/>
<path d="M142.1 352.1h0M145.2 352.2h0M148.8 352.3h0M152.3 352.5h0M188.0 363.6h0" stroke="#ff0000" stroke-width="7.5"/>
<path d="M275.8 283.1h0M155.9 352.8h0M159.5 353.2h0M163.0 353.9h0M166.6 355.1h0M170.1 356.6h0M180.8 361.0h0M184.4 362.3h0M275.8 285.5h0" stroke="#ff0000" stroke-width="7.75"/>
<path d="M173.7 358.2h0M177.3 359.7h0" stroke="#ff0000" stroke-width="8"/>
<path d="M68.0 288.2h0M71.1 288.7h0M74.2 290.2h0M77.3 292.3h0M80.4 294.8h0M83.4 297.5h0M86.5 300.5h0M89.6 303.9h0M92.7 307.4h0M95.8 311.1h0M98.9 314.7h0M102.0 318.2h0M105.1 321.7h0M108.1 325.3h0M111.2 328.9h0M114.3 332.2h0M117.4 335.2h0M120.5 337.8h0M123.6 340.4h0M126.7 342.7h0M129.8 344.8h0M132.8 346.6h0M135.9 347.9h0M139.0 348.8h0M142.1 349.5h0M145.2 349.8h0M148.8 349.4h0M152.3 348.3h0M155.9 346.7h0M159.5 344.0h0M163.0 341.0h0M166.6 337.9h0M170.1 334.4h0M173.7 330.0h0M177.3 324.6h0M180.8 320.2h0M184.4 315.6h0M188.0 309.7h0M191.5 304.8h0M195.1 300.1h0M198.7 294.3h0M202.2 288.7h0M205.8 283.9h0M209.4 279.8h0M212.9 274.9h0M278.8 284.1h0M278.8 284.1h0" stroke="#ff0000" stroke-width="8.5"/>
<path d="M173.7 437.0h0" stroke="#3a20d8" stroke-width="0.25"/>
<path d="M170.1 356.6h0" stroke="#3a20d8" stroke-width="0.5"/>
<path d="M173.7 358.2h0" stroke="#3a20d8" stroke-width="1.25"/>
<path d="M177.3 436.2h0" stroke="#3a20d8" stroke-width="2"/>
<path d="M177.3 359.7h0M180.8 361.0h0M184.4 362.3h0M188.0 363.6h0M191.5 365.2h0M195.1 367.0h0M198.7 368.8h0M202.2 370.7h0M205.8 372.6h0M209.4 374.3h0M212.9 376.0h0M216.5 377.9h0M220.0 380.4h0M223.6 383.5h0M227.2 386.9h0M230.7 390.5h0M234.3 394.5h0M237.3 391.0h0M240.2 387.4h0M243.2 383.9h0M246.2 380.6h0M249.1 377.2h0M252.1 373.8h0M255.1 370.5h0M258.0 367.5h0M261.0 365.0h0M264.0 363.0h0M266.9 361.3h0M269.9 359.8h0M272.9 358.5h0M275.8 357.5h0M278.8 356.7h0M180.8 435.0h0M184.4 433.5h0M188.0 431.8h0M191.5 429.9h0M195.1 427.6h0M198.7 425.1h0M202.2 422.3h0M205.8 419.5h0M209.4 416.6h0M212.9 413.4h0M216.5 410.1h0M220.0 406.7h0M223.6 403.5h0M227.2 400.4h0M230.7 397.5h0M234.3 394.7h0M237.3 398.1h0M240.2 401.7h0M243.2 405.2h0M246.2 408.7h0M249.1 412.2h0M252.1 415.7h0M255.1 419.2h0M258.0 422.5h0M261.0 425.5h0M264.0 428.2h0M266.9 430.8h0M269.9 433.2h0M272.9 435.4h0M275.8 437.1h0M278.8 438.1h0" stroke="#3a20d8" stroke-width="2.25"/>
<path d="M258.0 274.5h0M261.0 276.4h0M264.0 278.0h0M266.9 279.3h0M269.9 280.5h0M272.9 281.8h0M275.8 283.1h0M278.8 284.1h0" stroke="#4030d0" stroke-width="2.25"/>
<path d="M258.0 297.9h0M261.0 296.1h0M264.0 294.3h0M266.9 292.5h0M269.9 290.3h0M272.9 288.1h0M275.8 285.5h0M278.8 284.1h0" stroke="#0000ff" stroke-width="2.5"/>
<path d="M68.0 284.1h0M71.1 284.7h0M74.2 286.1h0M77.3 288.0h0M80.4 290.3h0M83.4 293.1h0M86.5 296.0h0M68.0 356.3h0M71.1 356.6h0M74.2 357.3h0M77.3 358.2h0M80.4 359.2h0M83.4 359.9h0M86.5 360.5h0M89.6 361.1h0M92.7 361.7h0M95.8 362.3h0M98.9 362.6h0M102.0 362.9h0M105.1 362.8h0M108.1 362.6h0M111.2 362.2h0M114.3 361.5h0" stroke="#0000ff" stroke-width="3.25"/>
<path d="M89.6 298.4h0M255.1 299.7h0M117.4 360.4h0" stroke="#0000ff" stroke-width="3.5"/>
<path d="M92.7 300.3h0M120.5 359.5h0" stroke="#0000ff" stroke-width="4"/>
<path d="M95.8 301.8h0M98.9 302.4h0M102.0 302.7h0M105.1 302.9h0M108.1 302.9h0M111.2 302.9h0M114.3 302.9h0M117.4 302.9h0M120.5 302.9h0M123.6 302.9h0M126.7 302.9h0M129.8 302.9h0M132.8 302.9h0M135.9 302.9h0M139.0 302.9h0M142.1 302.9h0M145.2 302.9h0M148.8 302.9h0M152.3 302.9h0M155.9 302.9h0M159.5 302.9h0M163.0 302.9h0M166.6 302.9h0M170.1 302.9h0M173.7 303.0h0M177.3 303.1h0M180.8 303.3h0M184.4 303.6h0M188.0 303.8h0M191.5 304.2h0M195.1 304.5h0M198.7 304.8h0M202.2 305.1h0M205.8 305.6h0M209.4 306.2h0M212.9 306.8h0M216.5 307.5h0M220.0 308.2h0M223.6 308.9h0M227.2 309.8h0M230.7 311.6h0M234.3 312.7h0M237.3 311.1h0M240.2 308.7h0M243.2 306.9h0M246.2 305.1h0M249.1 303.3h0M252.1 301.5h0M68.0 335.9h0M71.1 335.8h0M74.2 335.3h0M77.3 334.8h0M80.4 334.4h0M83.4 334.2h0M86.5 334.5h0M89.6 335.3h0M92.7 336.4h0M95.8 337.6h0M98.9 339.2h0M102.0 341.0h0M105.1 342.9h0M108.1 344.8h0M111.2 347.0h0M114.3 349.0h0M117.4 350.8h0M120.5 352.2h0M123.6 353.3h0M126.7 354.0h0M129.8 353.7h0M123.6 359.3h0M126.7 359.7h0M129.8 360.5h0M132.8 361.4h0M135.9 362.1h0M139.0 362.8h0M142.1 363.5h0M145.2 363.9h0M148.8 363.8h0M152.3 363.1h0M155.9 362.0h0M159.5 360.8h0M163.0 359.6h0M166.6 358.2h0M170.1 356.6h0M173.7 354.7h0M177.3 352.8h0M180.8 350.5h0M184.4 347.9h0M188.0 345.2h0M191.5 342.6h0M195.1 340.1h0M198.7 337.7h0M202.2 335.2h0M205.8 332.8h0M209.4 330.2h0M212.9 327.6h0M216.5 324.8h0M220.0 322.1h0M223.6 319.2h0M227.2 316.1h0M230.7 313.6h0M234.3 312.7h0M237.3 313.5h0M240.2 315.5h0M243.2 318.1h0M246.2 320.7h0M249.1 322.9h0M252.1 324.9h0M255.1 327.1h0M258.0 329.1h0M261.0 330.8h0M264.0 332.1h0M266.9 333.2h0M269.9 334.2h0M272.9 335.0h0M275.8 335.5h0M278.8 335.6h0" stroke="#0000ff" stroke-width="4.5"/>
<path d="M170.1 437.6h0" stroke="#00e3e3" stroke-width="1.25"/>
<path d="M68.0 437.6h0M71.1 437.6h0M74.2 437.7h0M77.3 437.7h0M80.4 437.8h0M83.4 437.8h0M86.5 437.9h0M89.6 438.0h0M92.7 438.1h0M95.8 438.2h0M98.9 438.2h0M102.0 438.4h0M105.1 438.5h0M108.1 438.6h0M111.2 438.8h0M114.3 438.9h0M117.4 439.1h0M120.5 439.3h0M123.6 439.5h0M126.7 439.6h0M129.8 439.8h0M132.8 440.0h0M135.9 440.3h0M139.0 440.6h0M142.1 440.8h0M145.2 440.9h0M148.8 440.7h0M152.3 440.3h0M155.9 439.7h0M159.5 439.2h0M163.0 438.7h0M166.6 438.2h0M68.0 453.8h0M71.1 453.7h0M74.2 453.5h0M77.3 453.0h0M80.4 452.5h0M83.4 451.8h0M86.5 451.1h0M89.6 450.3h0M92.7 449.5h0M95.8 448.8h0M98.9 448.0h0M102.0 447.4h0M105.1 446.7h0M108.1 446.0h0M111.2 445.2h0M114.3 444.5h0M117.4 443.7h0M120.5 443.0h0M123.6 442.4h0M126.7 441.9h0M129.8 441.5h0M132.8 441.1h0M135.9 440.9h0M139.0 440.7h0M142.1 440.7h0M145.2 440.9h0M148.8 441.3h0M152.3 442.0h0M155.9 442.8h0M159.5 443.5h0M163.0 444.3h0M166.6 445.2h0M170.1 446.2h0" stroke="#00e3e3" stroke-width="2.25"/>
<path d="M173.7 447.4h0" stroke="#00e3e3" stroke-width="2.75"/>
<path d="M177.3 448.9h0M180.8 450.4h0M184.4 452.0h0M188.0 453.5h0M191.5 455.0h0M195.1 456.6h0M198.7 458.2h0M202.2 459.6h0M205.8 460.8h0M209.4 461.6h0M212.9 462.3h0M216.5 463.0h0M220.0 463.5h0M223.6 463.9h0M227.2 464.1h0M230.7 464.2h0M234.3 464.2h0M237.3 464.0h0M240.2 463.7h0M243.2 463.3h0M246.2 462.8h0M249.1 462.2h0M252.1 461.6h0M255.1 461.0h0M258.0 460.2h0M261.0 459.3h0M264.0 458.3h0M266.9 457.3h0M269.9 456.3h0M272.9 455.3h0M275.8 454.4h0M278.8 453.7h0" stroke="#00e3e3" stroke-width="3"/>
<path d="M68.0 508.4h0M71.1 508.4h0M74.2 508.4h0M77.3 508.4h0M80.4 508.4h0M83.4 508.4h0M86.5 508.5h0M89.6 508.5h0M92.7 508.5h0M95.8 508.5h0M98.9 508.6h0M102.0 508.6h0M105.1 508.6h0M108.1 508.7h0M111.2 508.7h0M114.3 508.8h0M117.4 508.9h0M120.5 509.0h0M123.6 509.1h0M126.7 509.2h0M129.8 509.3h0M132.8 509.4h0M135.9 509.4h0M139.0 509.5h0M142.1 509.5h0M145.2 509.6h0M148.8 509.5h0M152.3 509.5h0M155.9 509.5h0M159.5 509.4h0M163.0 509.4h0M166.6 509.3h0M170.1 509.3h0M173.7 509.2h0M177.3 509.1h0M180.8 509.1h0M184.4 509.0h0M188.0 509.0h0M191.5 508.9h0M195.1 508.9h0M198.7 508.8h0M202.2 508.7h0M205.8 508.7h0M209.4 508.6h0M212.9 508.6h0M216.5 508.5h0M220.0 508.5h0M223.6 508.4h0M227.2 508.4h0M230.7 508.4h0M234.3 508.4h0M237.3 508.4h0M240.2 508.4h0M243.2 508.4h0M246.2 508.4h0M249.1 508.4h0M252.1 508.4h0M255.1 508.4h0M258.0 508.4h0M261.0 508.4h0M264.0 508.4h0M266.9 508.4h0M269.9 508.4h0M272.9 508.4h0M275.8 508.4h0M278.8 508.4h0" stroke="#00e3e3" stroke-width="9.5"/>
<path d="M89.6 298.4h0M114.3 361.5h0M120.5 507.2h0M177.3 507.3h0M111.2 510.4h0" stroke="#fff200" stroke-width="0.25"/>
<path d="M117.4 507.1h0M180.8 507.3h0M108.1 510.4h0M212.9 510.4h0" stroke="#fff200" stroke-width="0.5"/>
<path d="M255.1 299.7h0M184.4 507.2h0M216.5 510.4h0" stroke="#fff200" stroke-width="0.75"/>
<path d="M117.4 360.4h0M114.3 507.0h0M188.0 507.2h0M105.1 510.4h0M220.0 510.4h0" stroke="#fff200" stroke-width="1"/>
<path d="M111.2 506.9h0M191.5 507.2h0M102.0 510.4h0M223.6 510.4h0" stroke="#fff200" stroke-width="1.25"/>
<path d="M108.1 506.9h0M195.1 507.1h0M98.9 510.4h0M227.2 510.4h0M230.7 510.4h0" stroke="#fff200" stroke-width="1.5"/>
<path d="M92.7 300.3h0M120.5 359.5h0M80.4 506.6h0M83.4 506.7h0M86.5 506.7h0M89.6 506.7h0M92.7 506.7h0M95.8 506.8h0M98.9 506.8h0M102.0 506.8h0M105.1 506.9h0M198.7 507.1h0M202.2 507.0h0M205.8 507.0h0M209.4 506.9h0M212.9 506.9h0M216.5 506.8h0M220.0 506.8h0M223.6 506.8h0M227.2 506.7h0M86.5 510.4h0M89.6 510.4h0M92.7 510.4h0M95.8 510.4h0M234.3 510.4h0M237.3 510.4h0M240.2 510.4h0M243.2 510.4h0M246.2 510.4h0M249.1 510.4h0M252.1 510.4h0M255.1 510.4h0M258.0 510.4h0M261.0 510.4h0" stroke="#fff200" stroke-width="1.75"/>
<path d="M68.0 506.6h0M71.1 506.6h0M74.2 506.6h0M77.3 506.6h0M230.7 506.7h0M234.3 506.6h0M237.3 506.6h0M240.2 506.6h0M243.2 506.5h0M246.2 506.5h0M249.1 506.5h0M252.1 506.4h0M255.1 506.4h0M258.0 506.4h0M261.0 506.4h0M264.0 506.4h0M266.9 506.3h0M269.9 506.3h0M272.9 506.3h0M275.8 506.3h0M278.8 506.3h0M68.0 510.4h0M71.1 510.4h0M74.2 510.4h0M77.3 510.4h0M80.4 510.4h0M83.4 510.4h0M264.0 510.4h0M266.9 510.4h0M269.9 510.4h0M272.9 510.4h0M275.8 510.4h0M278.8 510.4h0" stroke="#fff200" stroke-width="2"/>
<path d="M95.8 301.8h0M98.9 302.4h0M102.0 302.7h0M105.1 302.9h0M108.1 302.9h0M111.2 302.9h0M114.3 302.9h0M117.4 302.9h0M120.5 302.9h0M123.6 302.9h0M126.7 302.9h0M129.8 302.9h0M132.8 302.9h0M135.9 302.9h0M139.0 302.9h0M142.1 302.9h0M145.2 302.9h0M148.8 302.9h0M152.3 302.9h0M155.9 302.9h0M159.5 302.9h0M163.0 302.9h0M166.6 302.9h0M170.1 302.9h0M173.7 303.0h0M177.3 303.1h0M180.8 303.3h0M184.4 303.6h0M188.0 303.8h0M191.5 304.2h0M195.1 304.5h0M198.7 304.8h0M202.2 305.1h0M205.8 305.6h0M209.4 306.2h0M212.9 306.8h0M216.5 307.5h0M220.0 308.2h0M223.6 308.9h0M227.2 309.8h0M230.7 311.6h0M234.3 312.7h0M237.3 311.1h0M240.2 308.7h0M243.2 306.9h0M246.2 305.1h0M249.1 303.3h0M252.1 301.5h0M68.0 335.9h0M71.1 335.8h0M74.2 335.3h0M77.3 334.8h0M80.4 334.4h0M83.4 334.2h0M86.5 334.5h0M89.6 335.3h0M92.7 336.4h0M95.8 337.6h0M98.9 339.2h0M102.0 341.0h0M105.1 342.9h0M108.1 344.8h0M111.2 347.0h0M114.3 349.0h0M117.4 350.8h0M120.5 352.2h0M123.6 353.3h0M126.7 354.0h0M129.8 353.7h0M123.6 359.3h0M126.7 359.7h0M129.8 360.5h0M132.8 361.4h0M135.9 362.1h0M139.0 362.8h0M142.1 363.5h0M145.2 363.9h0M148.8 363.8h0M152.3 363.1h0M155.9 362.0h0M159.5 360.8h0M163.0 359.6h0M166.6 358.2h0M170.1 356.6h0M173.7 354.7h0M177.3 352.8h0M180.8 350.5h0M184.4 347.9h0M188.0 345.2h0M191.5 342.6h0M195.1 340.1h0M198.7 337.7h0M202.2 335.2h0M205.8 332.8h0M209.4 330.2h0M212.9 327.6h0M216.5 324.8h0M220.0 322.1h0M223.6 319.2h0M227.2 316.1h0M230.7 313.6h0M234.3 312.7h0M237.3 313.5h0M240.2 315.5h0M243.2 318.1h0M246.2 320.7h0M249.1 322.9h0M252.1 324.9h0M255.1 327.1h0M258.0 329.1h0M261.0 330.8h0M264.0 332.1h0M266.9 333.2h0M269.9 334.2h0M272.9 335.0h0M275.8 335.5h0M278.8 335.6h0" stroke="#fff200" stroke-width="2.25"/></g>
<g><line x1="145.2" y1="276.7" x2="145.2" y2="512.5" stroke="#c8c8c8" stroke-width="1.4" stroke-dasharray="6.2 2.7 1.9 2.5" stroke-dashoffset="8.9"/>
<line x1="234.3" y1="276.7" x2="234.3" y2="512.5" stroke="#c8c8c8" stroke-width="1.4" stroke-dasharray="6.2 2.7 1.9 2.5" stroke-dashoffset="8.9"/>
<line x1="68.0" y1="394.8" x2="278.8" y2="394.8" stroke="#000" stroke-width="1.4" stroke-dasharray="4.5 5.9"/></g>

<circle cx="75.0" cy="371.1" r="3.0" fill="#fff200"/>
<text x="80.2" y="374.7" class="lg">F-<tspan class="i">p</tspan><tspan class="i" dy="3.3" style="font-size:8.5px">z</tspan></text>
<circle cx="75.0" cy="384.9" r="3.0" fill="#00e3e3"/>
<text x="80.2" y="388.5" class="lg">F-<tspan class="i">p</tspan><tspan class="i" dy="3.3" style="font-size:8.5px">xy</tspan></text>
<circle cx="75.0" cy="400.6" r="3.0" fill="#0000ff"/>
<text x="80.2" y="404.2" class="lg">Bi-<tspan class="i">p</tspan><tspan class="i" dy="3.3" style="font-size:8.5px">z</tspan></text>
<circle cx="75.0" cy="414.8" r="3.0" fill="#ff0000"/>
<text x="80.2" y="418.4" class="lg">Bi-<tspan class="i">p</tspan><tspan class="i" dy="3.3" style="font-size:8.5px">xy</tspan></text>
<path d="M63.4 512.50h4.6M65.4 497.76h2.6M63.4 483.02h4.6M65.4 468.29h2.6M63.4 453.55h4.6M65.4 438.81h2.6M63.4 424.07h4.6M65.4 409.34h2.6M63.4 394.60h4.6M65.4 379.86h2.6M63.4 365.12h4.6M65.4 350.39h2.6M63.4 335.65h4.6M65.4 320.91h2.6M63.4 306.18h4.6M65.4 291.44h2.6M63.4 276.70h4.6" stroke="#000" stroke-width="1.6"/>
<text transform="translate(60.4 517.7) scale(1 1.08)" class="tl">4</text>
<rect x="47.8" y="512.9" width="4.4" height="1.5"/>
<text transform="translate(60.4 488.2) scale(1 1.08)" class="tl">3</text>
<rect x="47.8" y="483.4" width="4.4" height="1.5"/>
<text transform="translate(60.4 458.8) scale(1 1.08)" class="tl">2</text>
<rect x="47.8" y="453.9" width="4.4" height="1.5"/>
<text transform="translate(60.4 429.3) scale(1 1.08)" class="tl">1</text>
<rect x="47.8" y="424.5" width="4.4" height="1.5"/>
<text transform="translate(60.4 399.8) scale(1 1.08)" class="tl">0</text>
<text transform="translate(60.4 370.3) scale(1 1.08)" class="tl">1</text>
<text transform="translate(60.4 340.8) scale(1 1.08)" class="tl">2</text>
<text transform="translate(60.4 311.4) scale(1 1.08)" class="tl">3</text>
<text transform="translate(60.4 281.9) scale(1 1.08)" class="tl">4</text>
<text transform="translate(73.6 531.9) scale(1 1.06)" class="xl">M</text>
<text transform="translate(147.0 531.9) scale(1 1.06)" class="xl">&#915;</text>
<text transform="translate(233.6 531.9) scale(1 1.06)" class="xl">K</text>
<text transform="translate(273.0 531.9) scale(1 1.06)" class="xl">M</text>
<text transform="translate(41.8 394.6) rotate(-90)" class="yl">Energy (eV)</text>
<text x="0.7" y="283.9" class="pl">(c)</text>
<clipPath id="clipd"><rect x="400.3" y="276.2" width="211.8" height="236.8"/></clipPath>
<rect x="400.8" y="276.7" width="210.8" height="235.8" fill="none" stroke="#000" stroke-width="1.7"/>
<g clip-path="url(#clipd)" stroke-linecap="round" fill="none"><path d="M527.9 290.9h0" stroke="#ff0000" stroke-width="0.75"/>
<path d="M444.0 324.9h0" stroke="#ff0000" stroke-width="1.5"/>
<path d="M524.3 292.8h0" stroke="#ff0000" stroke-width="3.75"/>
<path d="M440.9 324.5h0" stroke="#ff0000" stroke-width="4"/>
<path d="M400.8 321.2h0M403.9 321.1h0M407.0 321.0h0M410.1 320.8h0M413.2 320.6h0M416.2 320.6h0M419.3 320.8h0M422.4 321.1h0M425.5 321.6h0M428.6 322.2h0M431.7 322.8h0M434.8 323.4h0M437.9 324.0h0M400.8 438.2h0M403.9 438.2h0M407.0 438.2h0M410.1 438.2h0M413.2 438.3h0M416.2 438.3h0M419.3 438.3h0M422.4 438.3h0M425.5 438.3h0M428.6 438.4h0M431.7 438.4h0M434.8 438.4h0M437.9 438.4h0M440.9 438.5h0M444.0 438.5h0M447.1 438.5h0M450.2 438.6h0M453.3 438.6h0M456.4 438.6h0M459.5 438.7h0M462.6 438.7h0M465.6 438.7h0M468.7 438.7h0M471.8 438.8h0M474.9 438.8h0M478.0 438.8h0M481.6 438.8h0M485.1 438.8h0M488.7 438.8h0M492.3 438.8h0M495.8 438.8h0M499.4 438.8h0M502.9 438.8h0M506.5 438.9h0M510.1 439.1h0M513.6 439.4h0M517.2 439.7h0M520.8 440.1h0M524.3 440.6h0M527.9 441.1h0M531.5 441.5h0M535.0 441.9h0M538.6 442.3h0M542.2 442.7h0M545.7 443.2h0M549.3 443.6h0M552.8 444.1h0M556.4 444.5h0M560.0 444.9h0M563.5 445.2h0M567.1 445.3h0M570.1 445.2h0M573.0 445.0h0M576.0 444.6h0M579.0 444.1h0M581.9 443.5h0M584.9 442.9h0M587.9 442.3h0M590.8 441.8h0M593.8 441.2h0M596.8 440.5h0M599.7 439.8h0M602.7 439.1h0M605.7 438.6h0M608.6 438.3h0M611.6 438.2h0" stroke="#ff0000" stroke-width="4.25"/>
<path d="M520.8 295.2h0" stroke="#ff0000" stroke-width="5"/>
<path d="M517.2 297.8h0" stroke="#ff0000" stroke-width="5.25"/>
<path d="M513.6 300.8h0" stroke="#ff0000" stroke-width="5.5"/>
<path d="M510.1 304.3h0" stroke="#ff0000" stroke-width="5.75"/>
<path d="M416.2 278.4h0M419.3 281.7h0M422.4 284.8h0M425.5 287.7h0M428.6 290.5h0M431.7 293.3h0M434.8 296.0h0M437.9 298.8h0M440.9 301.6h0M444.0 304.4h0M447.1 306.9h0M506.5 308.1h0" stroke="#ff0000" stroke-width="6"/>
<path d="M450.2 309.3h0M502.9 311.3h0" stroke="#ff0000" stroke-width="6.25"/>
<path d="M400.8 341.5h0M403.9 341.8h0M407.0 342.4h0" stroke="#ff0000" stroke-width="6.5"/>
<path d="M453.3 311.4h0M410.1 343.3h0M413.2 344.4h0M416.2 345.5h0M419.3 346.6h0" stroke="#ff0000" stroke-width="6.75"/>
<path d="M499.4 313.6h0M422.4 347.9h0M425.5 349.3h0M428.6 350.8h0M431.7 352.3h0M510.1 354.9h0M513.6 353.6h0M517.2 352.5h0M520.8 351.7h0M524.3 351.5h0M527.9 351.7h0M531.5 352.3h0M535.0 353.0h0M538.6 353.8h0M542.2 354.7h0M545.7 355.5h0M549.3 356.3h0M552.8 357.2h0M556.4 358.2h0M560.0 359.1h0M563.5 359.8h0M567.1 360.4h0M570.1 360.2h0M573.0 359.3h0M576.0 358.1h0M579.0 356.6h0M581.9 354.8h0M584.9 353.1h0M587.9 351.3h0M590.8 349.6h0M593.8 347.9h0M596.8 346.4h0M599.7 344.8h0M602.7 343.5h0M605.7 342.5h0M608.6 341.7h0M611.6 341.5h0" stroke="#ff0000" stroke-width="7"/>
<path d="M456.4 313.4h0M459.5 314.8h0M462.6 315.3h0M465.6 315.7h0M468.7 316.0h0M471.8 316.2h0M474.9 316.4h0M478.0 316.5h0M481.6 316.5h0M485.1 316.4h0M488.7 316.3h0M492.3 316.0h0M495.8 315.0h0M434.8 353.7h0M437.9 355.3h0M440.9 356.9h0M444.0 358.5h0M499.4 360.0h0M502.9 357.9h0M506.5 356.4h0" stroke="#ff0000" stroke-width="7.25"/>
<path d="M447.1 360.0h0M450.2 361.5h0M453.3 362.9h0M456.4 364.2h0M492.3 365.0h0M495.8 362.6h0M400.8 422.6h0M403.9 422.5h0M407.0 422.2h0M410.1 421.8h0M413.2 421.3h0M416.2 420.8h0M419.3 420.1h0M422.4 419.3h0M425.5 418.4h0M428.6 417.4h0M431.7 416.3h0M434.8 415.2h0M437.9 414.0h0M440.9 412.7h0M444.0 411.3h0M447.1 409.9h0M450.2 408.7h0M453.3 407.6h0M456.4 406.6h0M459.5 405.6h0M462.6 404.7h0M465.6 404.1h0M468.7 403.5h0M471.8 403.1h0M474.9 402.8h0M478.0 402.9h0M481.6 403.3h0M485.1 404.2h0M488.7 405.2h0M492.3 406.4h0M495.8 407.8h0M499.4 409.2h0M502.9 410.3h0M506.5 411.3h0M510.1 412.1h0M513.6 412.8h0M517.2 413.1h0M520.8 413.1h0M524.3 412.5h0M527.9 411.6h0M531.5 410.5h0M535.0 409.0h0M538.6 407.4h0M542.2 405.8h0M545.7 404.1h0M549.3 402.5h0M552.8 401.1h0M556.4 399.8h0M560.0 398.8h0M563.5 398.1h0M567.1 397.8h0M570.1 398.2h0M573.0 399.1h0M576.0 400.4h0M579.0 402.0h0M581.9 403.8h0M584.9 405.6h0M587.9 407.8h0M590.8 410.4h0M593.8 413.0h0M596.8 415.4h0M599.7 417.4h0M602.7 419.2h0M605.7 420.8h0M608.6 422.0h0M611.6 422.5h0" stroke="#ff0000" stroke-width="7.5"/>
<path d="M459.5 365.4h0M462.6 366.5h0M465.6 367.4h0M468.7 368.2h0M485.1 367.9h0M488.7 366.6h0" stroke="#ff0000" stroke-width="7.75"/>
<path d="M471.8 368.8h0M474.9 369.1h0M478.0 369.3h0M481.6 368.9h0" stroke="#ff0000" stroke-width="8"/>
<path d="M453.3 311.4h0M428.6 350.8h0" stroke="#0000ff" stroke-width="0.5"/>
<path d="M425.5 349.3h0M506.5 356.4h0" stroke="#0000ff" stroke-width="1.5"/>
<path d="M422.4 347.9h0" stroke="#0000ff" stroke-width="2.25"/>
<path d="M502.9 311.3h0M400.8 341.5h0M403.9 341.8h0M407.0 342.4h0M410.1 343.3h0M413.2 344.4h0M416.2 345.5h0M419.3 346.6h0M510.1 354.9h0" stroke="#0000ff" stroke-width="2.75"/>
<path d="M444.0 324.9h0M513.6 353.6h0M517.2 352.5h0M520.8 351.7h0M524.3 351.5h0M527.9 351.7h0M531.5 352.3h0M535.0 353.0h0M538.6 353.8h0M542.2 354.7h0M545.7 355.5h0M549.3 356.3h0M552.8 357.2h0M556.4 358.2h0M560.0 359.1h0M563.5 359.8h0M567.1 360.4h0M570.1 360.2h0M573.0 359.3h0M576.0 358.1h0M579.0 356.6h0M581.9 354.8h0M584.9 353.1h0M587.9 351.3h0M590.8 349.6h0M593.8 347.9h0M596.8 346.4h0M599.7 344.8h0M602.7 343.5h0M605.7 342.5h0M608.6 341.7h0M611.6 341.5h0" stroke="#0000ff" stroke-width="3"/>
<path d="M450.2 309.3h0" stroke="#0000ff" stroke-width="3.25"/>
<path d="M416.2 278.4h0M419.3 281.7h0M422.4 284.8h0M425.5 287.7h0M428.6 290.5h0M431.7 293.3h0M434.8 296.0h0M437.9 298.8h0M440.9 301.6h0M444.0 304.4h0M447.1 306.9h0M506.5 308.1h0M510.1 304.3h0M517.2 322.8h0M520.8 321.0h0M524.3 319.0h0M527.9 317.0h0M531.5 315.0h0M535.0 312.8h0M538.6 310.6h0M542.2 308.4h0M545.7 306.4h0M549.3 304.3h0M552.8 302.4h0M556.4 300.4h0M560.0 298.6h0M563.5 296.6h0M567.1 295.3h0M570.1 296.1h0M573.0 298.1h0M576.0 300.7h0M579.0 303.4h0M581.9 305.9h0M584.9 308.7h0M587.9 311.6h0M590.8 314.3h0M593.8 316.6h0M596.8 318.0h0M599.7 319.0h0M602.7 319.8h0M605.7 320.5h0M608.6 321.0h0M611.6 321.4h0" stroke="#0000ff" stroke-width="3.5"/>
<path d="M513.6 300.8h0M517.2 297.8h0M520.8 295.2h0" stroke="#0000ff" stroke-width="3.75"/>
<path d="M524.3 292.8h0M513.6 324.2h0" stroke="#0000ff" stroke-width="4"/>
<path d="M422.4 276.0h0M425.5 277.4h0M428.6 278.5h0M431.7 279.2h0M434.8 279.8h0M437.9 280.3h0M440.9 280.8h0M444.0 281.2h0M447.1 281.6h0M450.2 281.9h0M453.3 282.1h0M456.4 282.3h0M459.5 282.5h0M462.6 282.7h0M465.6 282.9h0M468.7 283.0h0M471.8 283.1h0M474.9 283.2h0M478.0 283.2h0M481.6 283.1h0M485.1 282.9h0M488.7 282.6h0M492.3 282.3h0M495.8 281.9h0M499.4 281.5h0M502.9 281.1h0M506.5 280.7h0M510.1 280.0h0M513.6 279.2h0M517.2 278.3h0M520.8 277.4h0M524.3 275.5h0M527.9 290.9h0M531.5 289.8h0M535.0 288.8h0M538.6 288.1h0M542.2 287.6h0M545.7 287.6h0M549.3 288.1h0M552.8 288.8h0M556.4 289.7h0M560.0 291.1h0M563.5 293.0h0M567.1 293.8h0M570.1 293.1h0M573.0 291.4h0M576.0 289.3h0M579.0 287.2h0M581.9 285.4h0M584.9 283.7h0M587.9 281.9h0M590.8 280.2h0M593.8 278.7h0M596.8 277.2h0M599.7 275.7h0M447.1 325.3h0M450.2 325.7h0M453.3 326.2h0M456.4 326.6h0M459.5 327.0h0M462.6 327.3h0M465.6 327.7h0M468.7 328.0h0M471.8 328.2h0M474.9 328.4h0M478.0 328.6h0M481.6 328.6h0M485.1 328.4h0M488.7 328.1h0M492.3 327.7h0M495.8 327.4h0M499.4 327.0h0M502.9 326.5h0M506.5 325.8h0M510.1 325.1h0" stroke="#0000ff" stroke-width="4.5"/>
<path d="M400.8 422.6h0M403.9 422.5h0M407.0 422.2h0M410.1 421.8h0M413.2 421.3h0M416.2 420.8h0M419.3 420.1h0M422.4 419.3h0M425.5 418.4h0M428.6 417.4h0M431.7 416.3h0M434.8 415.2h0M437.9 414.0h0M440.9 412.7h0M444.0 411.3h0M447.1 409.9h0M450.2 408.7h0M453.3 407.6h0M456.4 406.6h0M459.5 405.6h0M462.6 404.7h0M465.6 404.1h0M468.7 403.5h0M471.8 403.1h0M474.9 402.8h0M478.0 402.9h0M481.6 403.3h0M485.1 404.2h0M488.7 405.2h0M492.3 406.4h0M495.8 407.8h0M499.4 409.2h0M502.9 410.3h0M506.5 411.3h0M510.1 412.1h0M513.6 412.8h0M517.2 413.1h0M520.8 413.1h0M524.3 412.5h0M527.9 411.6h0M531.5 410.5h0M535.0 409.0h0M538.6 407.4h0M542.2 405.8h0M545.7 404.1h0M549.3 402.5h0M552.8 401.1h0M556.4 399.8h0M560.0 398.8h0M563.5 398.1h0M567.1 397.8h0M570.1 398.2h0M573.0 399.1h0M576.0 400.4h0M579.0 402.0h0M581.9 403.8h0M584.9 405.6h0M587.9 407.8h0M590.8 410.4h0M593.8 413.0h0M596.8 415.4h0M599.7 417.4h0M602.7 419.2h0M605.7 420.8h0M608.6 422.0h0M611.6 422.5h0" stroke="#00e3e3" stroke-width="1.5"/>
<path d="M506.5 438.9h0" stroke="#00e3e3" stroke-width="2.25"/>
<path d="M510.1 439.1h0M513.6 439.4h0M517.2 439.7h0M520.8 440.1h0M524.3 440.6h0M527.9 441.1h0M531.5 441.5h0M535.0 441.9h0M538.6 442.3h0M542.2 442.7h0M545.7 443.2h0M549.3 443.6h0M552.8 444.1h0M556.4 444.5h0M560.0 444.9h0M563.5 445.2h0M567.1 445.3h0M570.1 445.2h0M573.0 445.0h0M576.0 444.6h0M579.0 444.1h0M581.9 443.5h0M584.9 442.9h0M587.9 442.3h0M590.8 441.8h0M593.8 441.2h0M596.8 440.5h0M599.7 439.8h0M602.7 439.1h0M605.7 438.6h0M608.6 438.3h0M611.6 438.2h0" stroke="#00e3e3" stroke-width="2.5"/>
<path d="M440.9 490.1h0M444.0 490.6h0M447.1 491.2h0M450.2 491.8h0M453.3 492.4h0M456.4 493.1h0M459.5 493.8h0M462.6 494.1h0M465.6 494.4h0M468.7 494.6h0M471.8 494.8h0M474.9 494.8h0M478.0 494.8h0M481.6 494.7h0M485.1 494.5h0M488.7 494.2h0M492.3 493.9h0M495.8 493.6h0M499.4 493.3h0M502.9 492.8h0M506.5 492.2h0M510.1 491.4h0" stroke="#00e3e3" stroke-width="5"/>
<path d="M400.8 484.5h0M403.9 484.5h0M407.0 484.5h0M410.1 484.6h0M413.2 484.6h0M416.2 484.6h0M419.3 484.7h0M422.4 484.7h0M425.5 484.8h0M428.6 484.8h0M431.7 484.9h0M434.8 485.0h0M437.9 485.0h0M440.9 485.1h0M444.0 485.2h0M447.1 485.3h0M450.2 485.4h0M453.3 485.5h0M456.4 485.6h0M459.5 485.8h0M462.6 485.9h0M465.6 486.1h0M468.7 486.2h0M471.8 486.3h0M474.9 486.4h0M478.0 486.6h0M481.6 486.7h0M485.1 486.8h0M488.7 486.9h0M492.3 487.1h0M495.8 487.1h0M499.4 487.2h0M502.9 487.2h0M506.5 487.1h0M510.1 486.9h0M513.6 486.7h0M517.2 486.5h0M520.8 486.2h0M524.3 485.9h0M527.9 485.5h0M531.5 485.2h0M535.0 484.9h0M538.6 484.6h0M542.2 484.4h0M545.7 484.2h0M549.3 483.9h0M552.8 483.7h0M556.4 483.4h0M560.0 483.2h0M563.5 483.1h0M567.1 483.0h0M570.1 483.0h0M573.0 483.1h0M576.0 483.1h0M579.0 483.2h0M581.9 483.3h0M584.9 483.4h0M587.9 483.5h0M590.8 483.6h0M593.8 483.7h0M596.8 483.9h0M599.7 484.0h0M602.7 484.2h0M605.7 484.3h0M608.6 484.4h0M611.6 484.5h0M400.8 488.9h0M403.9 488.9h0M407.0 488.9h0M410.1 489.0h0M413.2 489.0h0M416.2 489.0h0M419.3 489.1h0M422.4 489.1h0M425.5 489.2h0M428.6 489.2h0M431.7 489.3h0M434.8 489.4h0M437.9 489.4h0M440.9 489.5h0M444.0 489.6h0M447.1 489.8h0M450.2 490.0h0M453.3 490.2h0M456.4 490.4h0M459.5 490.6h0M462.6 490.8h0M465.6 490.9h0M468.7 491.1h0M471.8 491.2h0M474.9 491.3h0M478.0 491.3h0M481.6 491.2h0M485.1 491.2h0M488.7 491.1h0M492.3 491.0h0M495.8 490.9h0M499.4 490.8h0M502.9 490.7h0M506.5 490.6h0M510.1 490.5h0M513.6 490.4h0M517.2 490.3h0M520.8 490.2h0M524.3 490.1h0M527.9 490.0h0M531.5 489.9h0M535.0 489.7h0M538.6 489.6h0M542.2 489.4h0M545.7 489.2h0M549.3 488.9h0M552.8 488.5h0M556.4 488.1h0M560.0 487.8h0M563.5 487.6h0M567.1 487.4h0M570.1 487.4h0M573.0 487.5h0M576.0 487.5h0M579.0 487.6h0M581.9 487.7h0M584.9 487.8h0M587.9 487.9h0M590.8 488.0h0M593.8 488.2h0M596.8 488.3h0M599.7 488.5h0M602.7 488.6h0M605.7 488.8h0M608.6 488.9h0M611.6 488.9h0M400.8 502.5h0M403.9 502.5h0M407.0 502.4h0M410.1 502.4h0M413.2 502.4h0M416.2 502.3h0M419.3 502.2h0M422.4 502.2h0M425.5 502.1h0M428.6 502.0h0M431.7 501.9h0M434.8 501.8h0M437.9 501.7h0M440.9 501.6h0M444.0 501.5h0M447.1 501.3h0M450.2 501.1h0M453.3 500.9h0M456.4 500.7h0M459.5 500.5h0M462.6 500.3h0M465.6 500.0h0M468.7 499.8h0M471.8 499.6h0M474.9 499.4h0M478.0 499.2h0M481.6 499.0h0M485.1 498.8h0M488.7 498.6h0M492.3 498.5h0M495.8 498.4h0M499.4 498.3h0M502.9 498.3h0M506.5 498.5h0M510.1 498.8h0M513.6 499.1h0M517.2 499.5h0M520.8 500.0h0M524.3 500.5h0M527.9 501.0h0M531.5 501.4h0M535.0 501.8h0M538.6 502.3h0M542.2 502.8h0M545.7 503.3h0M549.3 503.8h0M552.8 504.3h0M556.4 504.7h0M560.0 505.0h0M563.5 505.3h0M567.1 505.4h0M570.1 505.4h0M573.0 505.3h0M576.0 505.1h0M579.0 504.9h0M581.9 504.6h0M584.9 504.3h0M587.9 503.9h0M590.8 503.7h0M593.8 503.3h0M596.8 502.9h0M599.7 502.5h0M602.7 502.1h0M605.7 501.7h0M608.6 501.5h0M611.6 501.3h0" stroke="#00e3e3" stroke-width="6"/>
<path d="M502.9 438.8h0" stroke="#c8e000" stroke-width="1"/>
<path d="M400.8 438.2h0M403.9 438.2h0M407.0 438.2h0M410.1 438.2h0M413.2 438.3h0M416.2 438.3h0M419.3 438.3h0M422.4 438.3h0M425.5 438.3h0M428.6 438.4h0M431.7 438.4h0M434.8 438.4h0M437.9 438.4h0M440.9 438.5h0M444.0 438.5h0M447.1 438.5h0M450.2 438.6h0M453.3 438.6h0M456.4 438.6h0M459.5 438.7h0M462.6 438.7h0M465.6 438.7h0M468.7 438.7h0M471.8 438.8h0M474.9 438.8h0M478.0 438.8h0M481.6 438.8h0M485.1 438.8h0M488.7 438.8h0M492.3 438.8h0M495.8 438.8h0M499.4 438.8h0" stroke="#c8e000" stroke-width="2"/>
<path d="M400.8 502.5h0M403.9 502.5h0M407.0 502.4h0M410.1 502.4h0M413.2 502.4h0M416.2 502.3h0M419.3 502.2h0M422.4 502.2h0M425.5 502.1h0M428.6 502.0h0M431.7 501.9h0M434.8 501.8h0M437.9 501.7h0M440.9 501.6h0M444.0 501.5h0M447.1 501.3h0M450.2 501.1h0M453.3 500.9h0M456.4 500.7h0M459.5 500.5h0M462.6 500.3h0M465.6 500.0h0M468.7 499.8h0M471.8 499.6h0M474.9 499.4h0M478.0 499.2h0M481.6 499.0h0M485.1 498.8h0M488.7 498.6h0M492.3 498.5h0M495.8 498.4h0M499.4 498.3h0M502.9 498.3h0M506.5 498.5h0M510.1 498.8h0M513.6 499.1h0M517.2 499.5h0M520.8 500.0h0M524.3 500.5h0M527.9 501.0h0M531.5 501.4h0M535.0 501.8h0M538.6 502.3h0M542.2 502.8h0M545.7 503.3h0M549.3 503.8h0M552.8 504.3h0M556.4 504.7h0M560.0 505.0h0M563.5 505.3h0M567.1 505.4h0M570.1 505.4h0M573.0 505.3h0M576.0 505.1h0M579.0 504.9h0M581.9 504.6h0M584.9 504.3h0M587.9 503.9h0M590.8 503.7h0M593.8 503.3h0M596.8 502.9h0M599.7 502.5h0M602.7 502.1h0M605.7 501.7h0M608.6 501.5h0M611.6 501.3h0" stroke="#2266ff" stroke-width="1.75"/>
<path d="M524.3 292.8h0" stroke="#5a5aff" stroke-width="1"/>
<path d="M527.9 290.9h0M531.5 289.8h0M535.0 288.8h0M538.6 288.1h0M542.2 287.6h0M545.7 287.6h0M549.3 288.1h0M552.8 288.8h0M556.4 289.7h0M560.0 291.1h0M563.5 293.0h0M567.1 293.8h0M570.1 293.1h0M573.0 291.4h0M576.0 289.3h0M579.0 287.2h0M581.9 285.4h0M584.9 283.7h0M587.9 281.9h0M590.8 280.2h0M593.8 278.7h0M596.8 277.2h0M599.7 275.7h0" stroke="#5a5aff" stroke-width="1.75"/>
<path d="M440.9 490.1h0M444.0 490.6h0M447.1 491.2h0M450.2 491.8h0M453.3 492.4h0M456.4 493.1h0M459.5 493.8h0M462.6 494.1h0M465.6 494.4h0M468.7 494.6h0M471.8 494.8h0M474.9 494.8h0M478.0 494.8h0M481.6 494.7h0M485.1 494.5h0M488.7 494.2h0M492.3 493.9h0M495.8 493.6h0M499.4 493.3h0M502.9 492.8h0M506.5 492.2h0M510.1 491.4h0" stroke="#cc3333" stroke-width="1.75"/>
<path d="M499.4 360.0h0" stroke="#ffb000" stroke-width="0.5"/>
<path d="M428.6 350.8h0" stroke="#ffb000" stroke-width="1"/>
<path d="M431.7 352.3h0M434.8 353.7h0M437.9 355.3h0M440.9 356.9h0M444.0 358.5h0M447.1 360.0h0M450.2 361.5h0M453.3 362.9h0M456.4 364.2h0M459.5 365.4h0M462.6 366.5h0M465.6 367.4h0M468.7 368.2h0M471.8 368.8h0M474.9 369.1h0M478.0 369.3h0M481.6 368.9h0M485.1 367.9h0M488.7 366.6h0M492.3 365.0h0M495.8 362.6h0" stroke="#ffb000" stroke-width="1.75"/>
<path d="M502.9 490.7h0" stroke="#f0f0f0" stroke-width="0.75"/>
<path d="M450.2 490.0h0" stroke="#f0f0f0" stroke-width="1.25"/>
<path d="M453.3 490.2h0M456.4 490.4h0M459.5 490.6h0M462.6 490.8h0M465.6 490.9h0M468.7 491.1h0M471.8 491.2h0M474.9 491.3h0M478.0 491.3h0M481.6 491.2h0M485.1 491.2h0M488.7 491.1h0M492.3 491.0h0M495.8 490.9h0M499.4 490.8h0" stroke="#f0f0f0" stroke-width="1.75"/>
<path d="M450.2 490.0h0" stroke="#fff200" stroke-width="0.25"/>
<path d="M587.9 487.9h0" stroke="#fff200" stroke-width="0.75"/>
<path d="M447.1 489.8h0" stroke="#fff200" stroke-width="1.5"/>
<path d="M517.2 322.8h0M520.8 321.0h0M524.3 319.0h0M527.9 317.0h0M531.5 315.0h0M535.0 312.8h0M538.6 310.6h0M542.2 308.4h0M545.7 306.4h0M549.3 304.3h0M552.8 302.4h0M556.4 300.4h0M560.0 298.6h0M563.5 296.6h0M567.1 295.3h0M570.1 296.1h0M573.0 298.1h0M576.0 300.7h0M579.0 303.4h0M581.9 305.9h0M584.9 308.7h0M587.9 311.6h0M590.8 314.3h0M593.8 316.6h0M596.8 318.0h0M599.7 319.0h0M602.7 319.8h0M605.7 320.5h0M608.6 321.0h0M611.6 321.4h0" stroke="#fff200" stroke-width="1.75"/>
<path d="M513.6 324.2h0M400.8 488.9h0M403.9 488.9h0M407.0 488.9h0M410.1 489.0h0M413.2 489.0h0M416.2 489.0h0M419.3 489.1h0M422.4 489.1h0M425.5 489.2h0M428.6 489.2h0M431.7 489.3h0M434.8 489.4h0M437.9 489.4h0M440.9 489.5h0M444.0 489.6h0M590.8 488.0h0M593.8 488.2h0M596.8 488.3h0M599.7 488.5h0M602.7 488.6h0M605.7 488.8h0M608.6 488.9h0M611.6 488.9h0" stroke="#fff200" stroke-width="2"/>
<path d="M400.8 484.5h0M403.9 484.5h0M407.0 484.5h0M410.1 484.6h0M413.2 484.6h0M416.2 484.6h0M419.3 484.7h0M422.4 484.7h0M425.5 484.8h0M428.6 484.8h0M431.7 484.9h0M434.8 485.0h0M437.9 485.0h0M440.9 485.1h0M444.0 485.2h0M447.1 485.3h0M450.2 485.4h0M453.3 485.5h0M456.4 485.6h0M459.5 485.8h0M462.6 485.9h0M465.6 486.1h0M468.7 486.2h0M471.8 486.3h0M474.9 486.4h0M478.0 486.6h0M481.6 486.7h0M485.1 486.8h0M488.7 486.9h0M492.3 487.1h0M495.8 487.1h0M499.4 487.2h0M502.9 487.2h0M506.5 487.1h0M510.1 486.9h0M513.6 486.7h0M517.2 486.5h0M520.8 486.2h0M524.3 485.9h0M527.9 485.5h0M531.5 485.2h0M535.0 484.9h0M538.6 484.6h0M542.2 484.4h0M545.7 484.2h0M549.3 483.9h0M552.8 483.7h0M556.4 483.4h0M560.0 483.2h0M563.5 483.1h0M567.1 483.0h0M570.1 483.0h0M573.0 483.1h0M576.0 483.1h0M579.0 483.2h0M581.9 483.3h0M584.9 483.4h0M587.9 483.5h0M590.8 483.6h0M593.8 483.7h0M596.8 483.9h0M599.7 484.0h0M602.7 484.2h0M605.7 484.3h0M608.6 484.4h0M611.6 484.5h0" stroke="#fff200" stroke-width="2.25"/>
<path d="M422.4 276.0h0M425.5 277.4h0M428.6 278.5h0M431.7 279.2h0M434.8 279.8h0M437.9 280.3h0M440.9 280.8h0M444.0 281.2h0M447.1 281.6h0M450.2 281.9h0M453.3 282.1h0M456.4 282.3h0M459.5 282.5h0M462.6 282.7h0M465.6 282.9h0M468.7 283.0h0M471.8 283.1h0M474.9 283.2h0M478.0 283.2h0M481.6 283.1h0M485.1 282.9h0M488.7 282.6h0M492.3 282.3h0M495.8 281.9h0M499.4 281.5h0M502.9 281.1h0M506.5 280.7h0M510.1 280.0h0M513.6 279.2h0M517.2 278.3h0M520.8 277.4h0M524.3 275.5h0M400.8 321.2h0M403.9 321.1h0M407.0 321.0h0M410.1 320.8h0M413.2 320.6h0M416.2 320.6h0M419.3 320.8h0M422.4 321.1h0M425.5 321.6h0M428.6 322.2h0M431.7 322.8h0M434.8 323.4h0M437.9 324.0h0M440.9 324.5h0M444.0 324.9h0M447.1 325.3h0M450.2 325.7h0M453.3 326.2h0M456.4 326.6h0M459.5 327.0h0M462.6 327.3h0M465.6 327.7h0M468.7 328.0h0M471.8 328.2h0M474.9 328.4h0M478.0 328.6h0M481.6 328.6h0M485.1 328.4h0M488.7 328.1h0M492.3 327.7h0M495.8 327.4h0M499.4 327.0h0M502.9 326.5h0M506.5 325.8h0M510.1 325.1h0" stroke="#fff200" stroke-width="2.5"/>
<path d="M563.5 512.2h0M567.1 512.2h0M570.1 512.2h0M573.0 512.3h0M576.0 512.3h0M579.0 512.3h0M581.9 512.3h0M584.9 512.4h0M587.9 512.4h0M590.8 512.4h0M593.8 512.4h0M596.8 512.5h0M599.7 512.5h0M602.7 512.5h0M605.7 512.5h0M608.6 512.5h0M611.6 512.5h0" stroke="#fff200" stroke-width="3.5"/>
<path d="M410.1 514.6h0M413.2 514.1h0M416.2 513.6h0M419.3 513.2h0M422.4 512.8h0M425.5 512.5h0M428.6 512.3h0M431.7 512.2h0M434.8 512.0h0M437.9 511.9h0M440.9 511.8h0M444.0 511.7h0M447.1 511.6h0M450.2 511.5h0M453.3 511.4h0M456.4 511.3h0M459.5 511.3h0M462.6 511.3h0M465.6 511.4h0M468.7 511.7h0M471.8 512.1h0M474.9 512.4h0M478.0 512.5h0M481.6 512.4h0M485.1 512.1h0M488.7 511.8h0M492.3 511.6h0M495.8 511.6h0M499.4 511.6h0M502.9 511.5h0M506.5 511.5h0M510.1 511.5h0M513.6 511.5h0M517.2 511.5h0M520.8 511.5h0M524.3 511.5h0M527.9 511.6h0M531.5 511.6h0M535.0 511.7h0M538.6 511.7h0M542.2 511.8h0M545.7 511.9h0M549.3 511.9h0M552.8 512.0h0M556.4 512.1h0M560.0 512.1h0" stroke="#fff200" stroke-width="3.75"/></g>
<g><line x1="478.0" y1="276.7" x2="478.0" y2="512.5" stroke="#c8c8c8" stroke-width="1.4" stroke-dasharray="6.2 2.7 1.9 2.5" stroke-dashoffset="8.9"/>
<line x1="567.1" y1="276.7" x2="567.1" y2="512.5" stroke="#c8c8c8" stroke-width="1.4" stroke-dasharray="6.2 2.7 1.9 2.5" stroke-dashoffset="8.9"/>
<line x1="400.8" y1="394.8" x2="611.6" y2="394.8" stroke="#000" stroke-width="1.4" stroke-dasharray="4.5 5.9"/></g>


<path d="M396.2 512.50h4.6M398.2 497.76h2.6M396.2 483.02h4.6M398.2 468.29h2.6M396.2 453.55h4.6M398.2 438.81h2.6M396.2 424.07h4.6M398.2 409.34h2.6M396.2 394.60h4.6M398.2 379.86h2.6M396.2 365.12h4.6M398.2 350.39h2.6M396.2 335.65h4.6M398.2 320.91h2.6M396.2 306.18h4.6M398.2 291.44h2.6M396.2 276.70h4.6" stroke="#000" stroke-width="1.6"/>
<text transform="translate(393.2 517.7) scale(1 1.08)" class="tl">4</text>
<rect x="380.6" y="512.9" width="4.4" height="1.5"/>
<text transform="translate(393.2 488.2) scale(1 1.08)" class="tl">3</text>
<rect x="380.6" y="483.4" width="4.4" height="1.5"/>
<text transform="translate(393.2 458.8) scale(1 1.08)" class="tl">2</text>
<rect x="380.6" y="453.9" width="4.4" height="1.5"/>
<text transform="translate(393.2 429.3) scale(1 1.08)" class="tl">1</text>
<rect x="380.6" y="424.5" width="4.4" height="1.5"/>
<text transform="translate(393.2 399.8) scale(1 1.08)" class="tl">0</text>
<text transform="translate(393.2 370.3) scale(1 1.08)" class="tl">1</text>
<text transform="translate(393.2 340.8) scale(1 1.08)" class="tl">2</text>
<text transform="translate(393.2 311.4) scale(1 1.08)" class="tl">3</text>
<text transform="translate(393.2 281.9) scale(1 1.08)" class="tl">4</text>
<text transform="translate(406.4 531.9) scale(1 1.06)" class="xl">M</text>
<text transform="translate(479.8 531.9) scale(1 1.06)" class="xl">&#915;</text>
<text transform="translate(566.4 531.9) scale(1 1.06)" class="xl">K</text>
<text transform="translate(605.8 531.9) scale(1 1.06)" class="xl">M</text>
<text transform="translate(374.6 394.6) rotate(-90)" class="yl">Energy (eV)</text>
<text x="333.0" y="284.4" class="pl">(d)</text>
<clipPath id="clipe"><rect x="67.5" y="546.4" width="211.8" height="236.7"/></clipPath>
<rect x="68.0" y="546.9" width="210.8" height="235.7" fill="none" stroke="#000" stroke-width="1.7"/>
<g clip-path="url(#clipe)" stroke-linecap="round" fill="none"><path d="M272.9 655.4h0M275.8 657.5h0M278.8 658.7h0M68.0 658.3h0M71.1 658.3h0M74.2 658.4h0M77.3 658.5h0M80.4 658.7h0M83.4 658.9h0M86.5 659.1h0M89.6 659.3h0M92.7 659.6h0M95.8 659.9h0M98.9 660.2h0M102.0 660.5h0M105.1 660.8h0M108.1 661.2h0M111.2 661.7h0M114.3 662.2h0M117.4 662.6h0M120.5 663.1h0M123.6 663.5h0M126.7 663.8h0M129.8 664.1h0M132.8 664.3h0M135.9 664.5h0M139.0 664.6h0M142.1 664.7h0M145.2 664.7h0M148.8 664.7h0M152.3 664.4h0M155.9 664.1h0M159.5 663.7h0M163.0 663.1h0M166.6 662.2h0M170.1 661.2h0M173.7 659.9h0" stroke="#ff0000" stroke-width="5"/>
<path d="M258.0 642.4h0M261.0 645.1h0M264.0 647.7h0M266.9 650.2h0M269.9 652.9h0M177.3 658.3h0M180.8 656.4h0M184.4 654.5h0M188.0 652.5h0M191.5 650.5h0" stroke="#ff0000" stroke-width="5.25"/>
<path d="M240.2 626.4h0M243.2 629.2h0M246.2 631.9h0M249.1 634.5h0M252.1 637.1h0M255.1 639.8h0M195.1 648.5h0M198.7 646.4h0M202.2 644.2h0M205.8 641.9h0" stroke="#ff0000" stroke-width="5.5"/>
<path d="M234.3 621.1h0M237.3 623.5h0M266.9 546.8h0M269.9 548.1h0M272.9 548.9h0M275.8 549.5h0M278.8 549.8h0M209.4 639.6h0M212.9 637.2h0M216.5 634.6h0M220.0 632.0h0M68.0 748.7h0M71.1 748.7h0M74.2 748.6h0M77.3 748.4h0M80.4 748.2h0M83.4 747.9h0M86.5 747.6h0M89.6 747.2h0M92.7 746.9h0M95.8 746.5h0M98.9 746.0h0M102.0 745.6h0M105.1 745.0h0M108.1 744.4h0M111.2 743.7h0M114.3 743.0h0M117.4 742.2h0M120.5 741.5h0M123.6 740.8h0M126.7 740.1h0M129.8 739.6h0M132.8 739.0h0M135.9 738.5h0M139.0 738.0h0M142.1 737.8h0M145.2 737.8h0M148.8 738.2h0M152.3 739.0h0M155.9 740.1h0M159.5 741.2h0M163.0 742.4h0M166.6 743.4h0M170.1 744.4h0M173.7 745.5h0M177.3 746.6h0M180.8 747.7h0M184.4 748.8h0M188.0 749.9h0M191.5 751.0h0M195.1 752.1h0M198.7 753.3h0M202.2 754.3h0M205.8 755.3h0M209.4 756.1h0M212.9 756.8h0M216.5 757.4h0M220.0 757.9h0M223.6 758.3h0M227.2 758.7h0M230.7 758.9h0M234.3 759.0h0M237.3 759.0h0M240.2 758.9h0M243.2 758.7h0M246.2 758.5h0M249.1 758.1h0M252.1 757.7h0M255.1 757.2h0M258.0 756.7h0M261.0 755.9h0M264.0 754.6h0M266.9 753.2h0M269.9 751.8h0M272.9 750.5h0M275.8 749.7h0M278.8 749.3h0" stroke="#ff0000" stroke-width="5.75"/>
<path d="M230.7 618.7h0M223.6 629.4h0M227.2 626.8h0M230.7 624.0h0M234.3 621.2h0" stroke="#ff0000" stroke-width="6"/>
<path d="M227.2 616.4h0" stroke="#ff0000" stroke-width="6.25"/>
<path d="M223.6 614.4h0" stroke="#ff0000" stroke-width="6.5"/>
<path d="M237.3 617.3h0M240.2 613.4h0M243.2 609.7h0M246.2 606.3h0M249.1 603.0h0M252.1 599.8h0M255.1 596.8h0M258.0 593.9h0M261.0 591.0h0M264.0 588.4h0M266.9 585.9h0M269.9 583.5h0M272.9 581.2h0M275.8 579.4h0M278.8 578.3h0" stroke="#ff0000" stroke-width="6.75"/>
<path d="M220.0 612.6h0" stroke="#ff0000" stroke-width="7"/>
<path d="M205.8 606.3h0M209.4 607.8h0M212.9 609.4h0M216.5 611.0h0" stroke="#ff0000" stroke-width="7.25"/>
<path d="M191.5 604.0h0M195.1 604.1h0M198.7 604.4h0M202.2 605.1h0" stroke="#ff0000" stroke-width="7.5"/>
<path d="M155.9 601.9h0M159.5 602.3h0M163.0 602.7h0M166.6 603.1h0M170.1 603.5h0M173.7 603.7h0M177.3 603.8h0M180.8 603.9h0M184.4 603.9h0M188.0 603.9h0" stroke="#ff0000" stroke-width="7.75"/>
<path d="M77.3 581.7h0M80.4 583.5h0M83.4 585.2h0M86.5 586.8h0M89.6 588.6h0M92.7 590.4h0M95.8 592.1h0M98.9 593.7h0M102.0 595.2h0M105.1 596.8h0M108.1 598.4h0M111.2 599.8h0M114.3 600.9h0M117.4 601.6h0M120.5 601.8h0M123.6 601.8h0M126.7 601.6h0M129.8 601.4h0M132.8 601.1h0M135.9 600.9h0M139.0 600.7h0M142.1 600.7h0M145.2 600.8h0M148.8 601.1h0M152.3 601.5h0" stroke="#ff0000" stroke-width="8"/>
<path d="M68.0 549.0h0M71.1 550.6h0M74.2 552.0h0M77.3 553.3h0M80.4 554.8h0M83.4 556.7h0M86.5 559.0h0M89.6 561.7h0M92.7 564.5h0M95.8 567.5h0M98.9 570.5h0M102.0 573.5h0M105.1 576.7h0M108.1 580.2h0M111.2 583.6h0M114.3 586.7h0M117.4 589.4h0M120.5 591.4h0M123.6 593.2h0M126.7 594.8h0M129.8 596.2h0M132.8 597.3h0M135.9 598.1h0M139.0 598.6h0M142.1 599.0h0M145.2 599.1h0M148.8 598.6h0M152.3 597.8h0M155.9 596.7h0M159.5 595.6h0M163.0 594.2h0M166.6 592.2h0M170.1 589.6h0M173.7 585.5h0M177.3 579.9h0M180.8 574.4h0M184.4 569.4h0M188.0 564.5h0M191.5 559.9h0M195.1 555.9h0M198.7 552.5h0M202.2 549.1h0M205.8 544.3h0M68.0 578.4h0M71.1 578.9h0M74.2 580.1h0" stroke="#ff0000" stroke-width="8.25"/>
<path d="M68.0 562.5h0M71.1 563.0h0M74.2 564.1h0M77.3 565.7h0M80.4 567.4h0M83.4 569.0h0M86.5 570.5h0M89.6 572.1h0M92.7 573.7h0M95.8 575.4h0M98.9 576.9h0M102.0 578.5h0M105.1 580.0h0M108.1 581.6h0M111.2 583.1h0M114.3 584.5h0M117.4 585.5h0M120.5 586.2h0M123.6 586.9h0M126.7 587.5h0M129.8 588.1h0M132.8 588.5h0M135.9 588.9h0M139.0 589.2h0M142.1 589.3h0M145.2 589.3h0M148.8 589.1h0M152.3 588.8h0M155.9 588.4h0M159.5 588.0h0M163.0 587.4h0M166.6 586.7h0M170.1 585.8h0M173.7 584.4h0M177.3 582.5h0M180.8 580.4h0M184.4 578.1h0M188.0 575.9h0M191.5 573.8h0M195.1 571.7h0M198.7 569.6h0M202.2 567.5h0M205.8 565.3h0M209.4 563.0h0M212.9 560.7h0M216.5 558.3h0M220.0 555.9h0M223.6 553.6h0M227.2 551.5h0M230.7 549.2h0M234.3 548.1h0M237.3 548.8h0M240.2 550.3h0M243.2 552.3h0M246.2 554.1h0M249.1 555.4h0M252.1 556.4h0M255.1 557.4h0M258.0 558.3h0M261.0 559.1h0M264.0 559.7h0M266.9 560.2h0M269.9 560.8h0M272.9 561.2h0M275.8 561.5h0M278.8 561.6h0" stroke="#0000ff" stroke-width="5"/>
<path d="M68.0 670.6h0M71.1 670.6h0M74.2 670.5h0M77.3 670.4h0M80.4 670.2h0M83.4 670.0h0M86.5 669.8h0M89.6 669.5h0M92.7 669.3h0M95.8 669.0h0M98.9 668.7h0M102.0 668.5h0M105.1 668.2h0M108.1 667.9h0M111.2 667.6h0M114.3 667.2h0M117.4 666.9h0M120.5 666.6h0M123.6 666.3h0M126.7 666.0h0M129.8 665.7h0M132.8 665.5h0M135.9 665.2h0M139.0 665.0h0M142.1 664.8h0M145.2 664.8h0M148.8 664.8h0M152.3 665.1h0M155.9 665.4h0M159.5 665.8h0M163.0 666.2h0M166.6 666.6h0M170.1 667.1h0M173.7 667.7h0M177.3 668.5h0M180.8 669.3h0M184.4 670.1h0M188.0 670.9h0M191.5 671.7h0M195.1 672.3h0M198.7 672.8h0M202.2 673.1h0M205.8 673.5h0M209.4 673.9h0M212.9 674.2h0M216.5 674.4h0M220.0 674.6h0M223.6 674.8h0M227.2 674.8h0M230.7 674.9h0M234.3 674.8h0M237.3 674.6h0M240.2 674.5h0M243.2 674.3h0M246.2 674.0h0M249.1 673.8h0M252.1 673.5h0M255.1 673.3h0M258.0 673.0h0M261.0 672.7h0M264.0 672.5h0M266.9 672.2h0M269.9 671.9h0M272.9 671.5h0M275.8 671.2h0M278.8 670.8h0" stroke="#00e3e3" stroke-width="5"/>
<path d="M68.0 708.6h0M71.1 708.7h0M74.2 708.7h0M77.3 708.7h0M80.4 708.7h0M83.4 708.7h0M86.5 708.7h0M89.6 708.7h0M92.7 708.7h0M95.8 708.8h0M98.9 708.8h0M102.0 708.8h0M105.1 708.8h0M108.1 708.8h0M111.2 708.8h0M114.3 708.9h0M117.4 708.9h0M120.5 708.9h0M123.6 708.9h0M126.7 708.9h0M129.8 708.9h0M132.8 708.9h0M135.9 708.9h0M139.0 708.9h0M142.1 708.9h0M145.2 708.9h0M148.8 708.9h0M152.3 708.8h0M155.9 708.6h0M159.5 708.5h0M163.0 708.3h0M166.6 708.2h0M170.1 708.1h0M173.7 708.0h0M177.3 707.9h0M180.8 707.9h0M184.4 707.8h0M188.0 707.8h0M191.5 707.7h0M195.1 707.7h0M198.7 707.6h0M202.2 707.6h0M205.8 707.5h0M209.4 707.4h0M212.9 707.4h0M216.5 707.3h0M220.0 707.2h0M223.6 707.1h0M227.2 707.0h0M230.7 706.9h0M234.3 706.9h0M237.3 706.9h0M240.2 706.9h0M243.2 707.0h0M246.2 707.0h0M249.1 707.1h0M252.1 707.1h0M255.1 707.2h0M258.0 707.2h0M261.0 707.2h0M264.0 707.2h0M266.9 707.2h0M269.9 707.2h0M272.9 707.2h0M275.8 707.2h0M278.8 707.2h0" stroke="#00e3e3" stroke-width="6.5"/>
<path d="M98.9 744.5h0" stroke="#fff200" stroke-width="1.25"/>
<path d="M95.8 744.9h0" stroke="#fff200" stroke-width="2"/>
<path d="M92.7 745.4h0" stroke="#fff200" stroke-width="2.5"/>
<path d="M170.1 743.3h0M173.7 745.0h0M177.3 745.1h0M180.8 744.8h0M184.4 744.5h0M188.0 744.1h0M191.5 743.7h0M195.1 743.4h0M198.7 743.1h0M202.2 742.7h0M205.8 742.4h0M209.4 742.0h0M212.9 741.6h0M216.5 741.2h0M220.0 740.8h0M223.6 740.5h0M227.2 740.3h0M230.7 740.2h0M234.3 740.2h0M237.3 740.4h0M240.2 740.7h0M243.2 741.3h0M246.2 742.0h0M249.1 742.8h0M252.1 743.5h0M255.1 744.3h0M258.0 744.9h0M261.0 745.5h0M264.0 746.1h0M266.9 746.6h0M269.9 747.2h0M272.9 747.8h0M275.8 748.3h0M278.8 748.9h0" stroke="#fff200" stroke-width="3"/>
<path d="M89.6 745.8h0" stroke="#fff200" stroke-width="3.25"/>
<path d="M86.5 746.1h0" stroke="#fff200" stroke-width="3.5"/>
<path d="M80.4 746.6h0M83.4 746.4h0" stroke="#fff200" stroke-width="3.75"/>
<path d="M71.1 747.2h0M74.2 747.1h0M77.3 746.9h0" stroke="#fff200" stroke-width="4"/>
<path d="M68.0 747.2h0" stroke="#fff200" stroke-width="4.25"/>
<path d="M68.0 736.0h0M71.1 736.0h0M74.2 736.0h0M77.3 735.9h0M80.4 735.7h0M83.4 735.5h0M86.5 735.4h0M89.6 735.1h0M92.7 734.9h0M95.8 734.7h0M98.9 734.4h0M102.0 734.2h0M105.1 733.9h0M108.1 733.6h0M111.2 733.2h0M114.3 732.9h0M117.4 732.5h0M120.5 732.2h0M123.6 731.8h0M126.7 731.5h0M129.8 731.1h0M132.8 730.7h0M135.9 730.3h0M139.0 729.9h0M142.1 729.7h0M145.2 729.6h0M148.8 729.7h0M152.3 730.1h0M155.9 730.6h0M159.5 731.2h0M163.0 731.6h0M166.6 732.0h0M170.1 732.4h0M173.7 732.8h0M177.3 733.2h0M180.8 733.5h0M184.4 734.0h0M188.0 734.4h0M191.5 734.9h0M195.1 735.4h0M198.7 736.0h0M202.2 736.6h0M205.8 737.1h0M209.4 737.7h0M212.9 738.1h0M216.5 738.6h0M220.0 739.1h0M223.6 739.6h0M227.2 739.9h0M230.7 740.2h0M234.3 740.2h0M237.3 740.0h0M240.2 739.8h0M243.2 739.5h0M246.2 739.2h0M249.1 738.8h0M252.1 738.4h0M255.1 738.1h0M258.0 737.8h0M261.0 737.5h0M264.0 737.2h0M266.9 736.9h0M269.9 736.6h0M272.9 736.4h0M275.8 736.3h0M278.8 736.3h0" stroke="#fff200" stroke-width="6.5"/>
<path d="M170.1 743.3h0M173.7 745.0h0M177.3 745.1h0M180.8 744.8h0M184.4 744.5h0M188.0 744.1h0M191.5 743.7h0M195.1 743.4h0M198.7 743.1h0M202.2 742.7h0M205.8 742.4h0M209.4 742.0h0M212.9 741.6h0M216.5 741.2h0M220.0 740.8h0M223.6 740.5h0M227.2 740.3h0M230.7 740.2h0M234.3 740.2h0M237.3 740.4h0M240.2 740.7h0M243.2 741.3h0M246.2 742.0h0M249.1 742.8h0M252.1 743.5h0M255.1 744.3h0M258.0 744.9h0M261.0 745.5h0M264.0 746.1h0M266.9 746.6h0M269.9 747.2h0M272.9 747.8h0M275.8 748.3h0M278.8 748.9h0" stroke="#555500" stroke-width="1.25"/>
<path d="M68.0 713.7h0M71.1 713.7h0M74.2 713.8h0M77.3 714.0h0M80.4 714.3h0M83.4 714.7h0M86.5 715.1h0M89.6 715.5h0M92.7 716.0h0M95.8 716.6h0M98.9 717.1h0M102.0 717.8h0M105.1 718.5h0M108.1 719.4h0M111.2 720.4h0M114.3 721.4h0M117.4 722.4h0M120.5 723.4h0M123.6 724.3h0M126.7 725.3h0M129.8 726.2h0M132.8 727.1h0M135.9 728.0h0M139.0 728.8h0M142.1 729.4h0M145.2 729.6h0M148.8 728.9h0M152.3 727.6h0M155.9 726.0h0M159.5 724.3h0M163.0 722.7h0M166.6 721.3h0M170.1 719.7h0M173.7 718.1h0M177.3 716.5h0M180.8 715.1h0M184.4 713.8h0M188.0 712.9h0M191.5 712.0h0M195.1 711.2h0M198.7 710.6h0M202.2 710.0h0M205.8 709.7h0M209.4 709.5h0M212.9 709.6h0M216.5 709.7h0M220.0 709.8h0M223.6 709.9h0M227.2 710.0h0M230.7 710.2h0M234.3 710.4h0M237.3 710.6h0M240.2 710.8h0M243.2 711.0h0M246.2 711.1h0M249.1 711.3h0M252.1 711.5h0M255.1 711.7h0M258.0 711.9h0M261.0 712.1h0M264.0 712.3h0M266.9 712.5h0M269.9 712.7h0M272.9 712.9h0M275.8 713.0h0M278.8 713.1h0" stroke="#b8d800" stroke-width="2.5"/>
<path d="M129.8 726.2h0" stroke="#0000ff" stroke-width="0.5"/>
<path d="M159.5 724.3h0" stroke="#0000ff" stroke-width="1.25"/>
<path d="M132.8 727.1h0M135.9 728.0h0M139.0 728.8h0M142.1 729.4h0M145.2 729.6h0M148.8 728.9h0M152.3 727.6h0M155.9 726.0h0M68.0 736.0h0M71.1 736.0h0M74.2 736.0h0M77.3 735.9h0M80.4 735.7h0M83.4 735.5h0M86.5 735.4h0M89.6 735.1h0M92.7 734.9h0M95.8 734.7h0M98.9 734.4h0M102.0 734.2h0M105.1 733.9h0M108.1 733.6h0M111.2 733.2h0M114.3 732.9h0M117.4 732.5h0M120.5 732.2h0M123.6 731.8h0M126.7 731.5h0M129.8 731.1h0M132.8 730.7h0M135.9 730.3h0M139.0 729.9h0M142.1 729.7h0M145.2 729.6h0M148.8 729.7h0M152.3 730.1h0M155.9 730.6h0M159.5 731.2h0M163.0 731.6h0M166.6 732.0h0M170.1 732.4h0M173.7 732.8h0M177.3 733.2h0M180.8 733.5h0M184.4 734.0h0M188.0 734.4h0M191.5 734.9h0M195.1 735.4h0M198.7 736.0h0M202.2 736.6h0M205.8 737.1h0M209.4 737.7h0M212.9 738.1h0M216.5 738.6h0M220.0 739.1h0M223.6 739.6h0M227.2 739.9h0M230.7 740.2h0M234.3 740.2h0M237.3 740.0h0M240.2 739.8h0M243.2 739.5h0M246.2 739.2h0M249.1 738.8h0M252.1 738.4h0M255.1 738.1h0M258.0 737.8h0M261.0 737.5h0M264.0 737.2h0M266.9 736.9h0M269.9 736.6h0M272.9 736.4h0M275.8 736.3h0M278.8 736.3h0" stroke="#0000ff" stroke-width="1.5"/>
<path d="M68.0 748.7h0M71.1 748.7h0M74.2 748.6h0M77.3 748.4h0M80.4 748.2h0M83.4 747.9h0M86.5 747.6h0" stroke="#00e3e3" stroke-width="2.5"/>
<path d="M89.6 747.2h0M92.7 746.9h0M95.8 746.5h0M98.9 746.0h0M102.0 745.6h0M105.1 745.0h0M108.1 744.4h0M111.2 743.7h0M114.3 743.0h0M117.4 742.2h0M120.5 741.5h0M123.6 740.8h0M126.7 740.1h0M129.8 739.6h0M132.8 739.0h0M135.9 738.5h0M139.0 738.0h0M142.1 737.8h0M145.2 737.8h0M148.8 738.2h0M152.3 739.0h0M155.9 740.1h0M159.5 741.2h0M163.0 742.4h0M166.6 743.4h0M170.1 744.4h0M173.7 745.5h0M177.3 746.6h0M180.8 747.7h0M184.4 748.8h0M188.0 749.9h0M191.5 751.0h0M195.1 752.1h0M198.7 753.3h0M202.2 754.3h0M205.8 755.3h0M209.4 756.1h0M212.9 756.8h0M216.5 757.4h0M220.0 757.9h0M223.6 758.3h0M227.2 758.7h0M230.7 758.9h0M234.3 759.0h0M237.3 759.0h0M240.2 758.9h0M243.2 758.7h0M246.2 758.5h0M249.1 758.1h0M252.1 757.7h0M255.1 757.2h0M258.0 756.7h0M261.0 755.9h0M264.0 754.6h0M266.9 753.2h0M269.9 751.8h0M272.9 750.5h0M275.8 749.7h0M278.8 749.3h0" stroke="#00e3e3" stroke-width="2.75"/>
<path d="M68.0 670.6h0M71.1 670.6h0M74.2 670.5h0M77.3 670.4h0M80.4 670.2h0M83.4 670.0h0M86.5 669.8h0M89.6 669.5h0M92.7 669.3h0M95.8 669.0h0M98.9 668.7h0M102.0 668.5h0M105.1 668.2h0M108.1 667.9h0M111.2 667.6h0M114.3 667.2h0M117.4 666.9h0M120.5 666.6h0M123.6 666.3h0M126.7 666.0h0M129.8 665.7h0M132.8 665.5h0M135.9 665.2h0M139.0 665.0h0M142.1 664.8h0M145.2 664.8h0M148.8 664.8h0M152.3 665.1h0M155.9 665.4h0M159.5 665.8h0M163.0 666.2h0M166.6 666.6h0M170.1 667.1h0M173.7 667.7h0M177.3 668.5h0M180.8 669.3h0M184.4 670.1h0M188.0 670.9h0M191.5 671.7h0M195.1 672.3h0M198.7 672.8h0M202.2 673.1h0M205.8 673.5h0M209.4 673.9h0M212.9 674.2h0M216.5 674.4h0M220.0 674.6h0M223.6 674.8h0M227.2 674.8h0M230.7 674.9h0M234.3 674.8h0M237.3 674.6h0M240.2 674.5h0M243.2 674.3h0M246.2 674.0h0M249.1 673.8h0M252.1 673.5h0M255.1 673.3h0M258.0 673.0h0M261.0 672.7h0M264.0 672.5h0M266.9 672.2h0M269.9 671.9h0M272.9 671.5h0M275.8 671.2h0M278.8 670.8h0M68.0 708.6h0M71.1 708.7h0M74.2 708.7h0M77.3 708.7h0M80.4 708.7h0M83.4 708.7h0M86.5 708.7h0M89.6 708.7h0M92.7 708.7h0M95.8 708.8h0M98.9 708.8h0M102.0 708.8h0M105.1 708.8h0M108.1 708.8h0M111.2 708.8h0M114.3 708.9h0M117.4 708.9h0M120.5 708.9h0M123.6 708.9h0M126.7 708.9h0M129.8 708.9h0M132.8 708.9h0M135.9 708.9h0M139.0 708.9h0M142.1 708.9h0M145.2 708.9h0M148.8 708.9h0M152.3 708.8h0M155.9 708.6h0M159.5 708.5h0M163.0 708.3h0M166.6 708.2h0M170.1 708.1h0M173.7 708.0h0M177.3 707.9h0M180.8 707.9h0M184.4 707.8h0M188.0 707.8h0M191.5 707.7h0M195.1 707.7h0M198.7 707.6h0M202.2 707.6h0M205.8 707.5h0M209.4 707.4h0M212.9 707.4h0M216.5 707.3h0M220.0 707.2h0M223.6 707.1h0M227.2 707.0h0M230.7 706.9h0M234.3 706.9h0M237.3 706.9h0M240.2 706.9h0M243.2 707.0h0M246.2 707.0h0M249.1 707.1h0M252.1 707.1h0M255.1 707.2h0M258.0 707.2h0M261.0 707.2h0M264.0 707.2h0M266.9 707.2h0M269.9 707.2h0M272.9 707.2h0M275.8 707.2h0M278.8 707.2h0" stroke="#ff0000" stroke-width="2"/>
<path d="M68.0 562.5h0M71.1 563.0h0M74.2 564.1h0M77.3 565.7h0M80.4 567.4h0M83.4 569.0h0M86.5 570.5h0M89.6 572.1h0M92.7 573.7h0M95.8 575.4h0M98.9 576.9h0M102.0 578.5h0M105.1 580.0h0M108.1 581.6h0M111.2 583.1h0M114.3 584.5h0M117.4 585.5h0M120.5 586.2h0M123.6 586.9h0M126.7 587.5h0M129.8 588.1h0M132.8 588.5h0M135.9 588.9h0M139.0 589.2h0M142.1 589.3h0M145.2 589.3h0M148.8 589.1h0M152.3 588.8h0M155.9 588.4h0M159.5 588.0h0M163.0 587.4h0M166.6 586.7h0M170.1 585.8h0M173.7 584.4h0M177.3 582.5h0M180.8 580.4h0M184.4 578.1h0M188.0 575.9h0M191.5 573.8h0M195.1 571.7h0M198.7 569.6h0M202.2 567.5h0M205.8 565.3h0M209.4 563.0h0M212.9 560.7h0M216.5 558.3h0M220.0 555.9h0M223.6 553.6h0M227.2 551.5h0M230.7 549.2h0M234.3 548.1h0M237.3 548.8h0M240.2 550.3h0M243.2 552.3h0M246.2 554.1h0M249.1 555.4h0M252.1 556.4h0M255.1 557.4h0M258.0 558.3h0M261.0 559.1h0M264.0 559.7h0M266.9 560.2h0M269.9 560.8h0M272.9 561.2h0M275.8 561.5h0M278.8 561.6h0" stroke="#fff200" stroke-width="2.75"/></g>
<g><line x1="145.2" y1="546.9" x2="145.2" y2="782.6" stroke="#c8c8c8" stroke-width="1.4" stroke-dasharray="6.2 2.7 1.9 2.5" stroke-dashoffset="8.4"/>
<line x1="234.3" y1="546.9" x2="234.3" y2="782.6" stroke="#c8c8c8" stroke-width="1.4" stroke-dasharray="6.2 2.7 1.9 2.5" stroke-dashoffset="8.4"/>
<line x1="68.0" y1="665.0" x2="278.8" y2="665.0" stroke="#000" stroke-width="1.4" stroke-dasharray="4.5 5.9"/></g>

<circle cx="75.0" cy="604.1" r="3.0" fill="#fff200"/>
<text x="80.2" y="607.8" class="lg">O-<tspan class="i">p</tspan><tspan class="i" dy="3.3" style="font-size:8.5px">z</tspan></text>
<circle cx="75.0" cy="617.8" r="3.0" fill="#00e3e3"/>
<text x="80.2" y="621.4" class="lg">O-<tspan class="i">p</tspan><tspan class="i" dy="3.3" style="font-size:8.5px">xy</tspan></text>
<circle cx="75.0" cy="631.4" r="3.0" fill="#0000ff"/>
<text x="80.2" y="635.0" class="lg">Bi-<tspan class="i">p</tspan><tspan class="i" dy="3.3" style="font-size:8.5px">z</tspan></text>
<circle cx="75.0" cy="645.0" r="3.0" fill="#ff0000"/>
<text x="80.2" y="648.6" class="lg">Bi-<tspan class="i">p</tspan><tspan class="i" dy="3.3" style="font-size:8.5px">xy</tspan></text>
<path d="M63.4 782.60h4.6M65.4 767.87h2.6M63.4 753.14h4.6M65.4 738.41h2.6M63.4 723.67h4.6M65.4 708.94h2.6M63.4 694.21h4.6M65.4 679.48h2.6M63.4 664.75h4.6M65.4 650.02h2.6M63.4 635.29h4.6M65.4 620.56h2.6M63.4 605.83h4.6M65.4 591.09h2.6M63.4 576.36h4.6M65.4 561.63h2.6M63.4 546.90h4.6" stroke="#000" stroke-width="1.6"/>
<text transform="translate(60.4 787.8) scale(1 1.08)" class="tl">4</text>
<rect x="47.8" y="783.0" width="4.4" height="1.5"/>
<text transform="translate(60.4 758.3) scale(1 1.08)" class="tl">3</text>
<rect x="47.8" y="753.5" width="4.4" height="1.5"/>
<text transform="translate(60.4 728.9) scale(1 1.08)" class="tl">2</text>
<rect x="47.8" y="724.1" width="4.4" height="1.5"/>
<text transform="translate(60.4 699.4) scale(1 1.08)" class="tl">1</text>
<rect x="47.8" y="694.6" width="4.4" height="1.5"/>
<text transform="translate(60.4 670.0) scale(1 1.08)" class="tl">0</text>
<text transform="translate(60.4 640.5) scale(1 1.08)" class="tl">1</text>
<text transform="translate(60.4 611.0) scale(1 1.08)" class="tl">2</text>
<text transform="translate(60.4 581.6) scale(1 1.08)" class="tl">3</text>
<text transform="translate(60.4 552.1) scale(1 1.08)" class="tl">4</text>
<text transform="translate(73.6 802.0) scale(1 1.06)" class="xl">M</text>
<text transform="translate(147.0 802.0) scale(1 1.06)" class="xl">&#915;</text>
<text transform="translate(233.6 802.0) scale(1 1.06)" class="xl">K</text>
<text transform="translate(273.0 802.0) scale(1 1.06)" class="xl">M</text>
<text transform="translate(41.8 664.8) rotate(-90)" class="yl">Energy (eV)</text>
<text x="0.7" y="552.9" class="pl">(e)</text>
<clipPath id="clipf"><rect x="400.3" y="546.4" width="211.8" height="236.6"/></clipPath>
<rect x="400.8" y="546.9" width="210.8" height="235.6" fill="none" stroke="#000" stroke-width="1.7"/>
<g clip-path="url(#clipf)" stroke-linecap="round" fill="none"><path d="M459.5 740.5h0" stroke="#ff9a00" stroke-width="0.5"/>
<path d="M556.4 749.2h0" stroke="#ff9a00" stroke-width="1.25"/>
<path d="M499.4 742.4h0M579.0 750.0h0" stroke="#ff9a00" stroke-width="1.5"/>
<path d="M456.4 741.3h0" stroke="#ff9a00" stroke-width="2"/>
<path d="M581.9 750.2h0" stroke="#ff9a00" stroke-width="2.75"/>
<path d="M502.9 743.3h0" stroke="#ff9a00" stroke-width="3"/>
<path d="M552.8 749.3h0" stroke="#ff9a00" stroke-width="3.25"/>
<path d="M453.3 742.1h0" stroke="#ff9a00" stroke-width="3.5"/>
<path d="M506.5 744.2h0M510.1 745.1h0M513.6 746.1h0M517.2 747.0h0M520.8 747.7h0M524.3 748.2h0M527.9 748.7h0M531.5 749.1h0M535.0 749.4h0M538.6 749.5h0M542.2 749.5h0M545.7 749.5h0M549.3 749.4h0M584.9 750.5h0" stroke="#ff9a00" stroke-width="4.25"/>
<path d="M400.8 752.8h0M403.9 752.7h0M407.0 752.5h0M410.1 752.2h0M413.2 751.8h0M416.2 751.3h0M419.3 750.8h0M422.4 750.2h0M425.5 749.6h0M428.6 748.9h0M431.7 748.2h0M434.8 747.6h0M437.9 746.7h0M440.9 745.8h0M444.0 744.7h0M447.1 743.7h0M450.2 742.8h0M587.9 750.7h0M590.8 751.0h0M593.8 751.2h0M596.8 751.5h0M599.7 751.8h0M602.7 752.0h0M605.7 752.3h0M608.6 752.6h0M611.6 753.0h0" stroke="#ff9a00" stroke-width="4.5"/>
<path d="M450.2 656.6h0" stroke="#ff0000" stroke-width="0.25"/>
<path d="M517.2 656.6h0" stroke="#ff0000" stroke-width="0.5"/>
<path d="M447.1 656.9h0" stroke="#ff0000" stroke-width="1.75"/>
<path d="M520.8 655.9h0" stroke="#ff0000" stroke-width="2"/>
<path d="M444.0 657.2h0" stroke="#ff0000" stroke-width="3"/>
<path d="M524.3 655.0h0" stroke="#ff0000" stroke-width="3.5"/>
<path d="M560.0 557.4h0M563.5 555.7h0M567.1 554.8h0M570.1 555.2h0M573.0 556.0h0M576.0 557.0h0M579.0 558.2h0M581.9 559.4h0M584.9 560.3h0M587.9 561.3h0M590.8 562.3h0M593.8 563.3h0M596.8 564.2h0M599.7 565.2h0M602.7 566.0h0M605.7 566.8h0M608.6 567.5h0M611.6 568.0h0M527.9 653.7h0M531.5 652.2h0M535.0 650.6h0M538.6 649.2h0M542.2 647.8h0M545.7 646.4h0M549.3 645.0h0M552.8 643.6h0M556.4 642.4h0M560.0 641.2h0M563.5 640.2h0M567.1 639.9h0M570.1 640.5h0M573.0 641.6h0M576.0 643.2h0M579.0 644.9h0M581.9 646.6h0M584.9 648.1h0M587.9 649.6h0M590.8 651.2h0M593.8 652.8h0M596.8 654.3h0M599.7 655.7h0M602.7 657.1h0M605.7 658.4h0M608.6 659.4h0M611.6 659.9h0" stroke="#ff0000" stroke-width="4.25"/>
<path d="M520.8 577.9h0M524.3 575.9h0M527.9 573.7h0M531.5 571.3h0M535.0 569.1h0M538.6 567.0h0M542.2 565.3h0M545.7 563.6h0M549.3 562.1h0M552.8 560.6h0M556.4 559.1h0M400.8 659.7h0M403.9 659.7h0M407.0 659.6h0M410.1 659.5h0M413.2 659.3h0M416.2 659.2h0M419.3 659.0h0M422.4 658.8h0M425.5 658.6h0M428.6 658.4h0M431.7 658.2h0M434.8 657.9h0M437.9 657.7h0M440.9 657.4h0" stroke="#ff0000" stroke-width="4.5"/>
<path d="M517.2 579.8h0" stroke="#ff0000" stroke-width="5"/>
<path d="M513.6 581.7h0" stroke="#ff0000" stroke-width="5.5"/>
<path d="M400.8 760.1h0M403.9 760.1h0M407.0 760.1h0M410.1 760.1h0M413.2 760.1h0M416.2 760.1h0M419.3 760.1h0M422.4 760.1h0M425.5 760.1h0M428.6 760.1h0M431.7 760.1h0M434.8 760.1h0M437.9 760.1h0M440.9 760.1h0M444.0 760.1h0M447.1 760.1h0M450.2 760.1h0M453.3 760.1h0M456.4 760.1h0M459.5 760.1h0M462.6 760.1h0M465.6 760.1h0M468.7 760.1h0M471.8 760.1h0M474.9 760.1h0M478.0 760.1h0M481.6 760.1h0M485.1 760.2h0M488.7 760.4h0M492.3 760.5h0M495.8 760.7h0M499.4 760.8h0M502.9 761.0h0M506.5 761.2h0M510.1 761.4h0M513.6 761.6h0M517.2 761.9h0M520.8 762.2h0M524.3 762.5h0M527.9 762.9h0M531.5 763.2h0M535.0 763.6h0M538.6 763.9h0M542.2 764.2h0M545.7 764.5h0M549.3 764.8h0M552.8 765.0h0M556.4 765.2h0M560.0 765.3h0M563.5 765.4h0M567.1 765.4h0M570.1 765.4h0M573.0 765.2h0M576.0 764.9h0M579.0 764.6h0M581.9 764.1h0M584.9 763.7h0M587.9 763.1h0M590.8 762.6h0M593.8 762.0h0M596.8 761.4h0M599.7 760.9h0M602.7 760.4h0M605.7 759.9h0M608.6 759.4h0M611.6 759.0h0" stroke="#ff0000" stroke-width="5.75"/>
<path d="M400.8 568.7h0M403.9 568.8h0" stroke="#ff0000" stroke-width="6"/>
<path d="M407.0 569.2h0M410.1 569.8h0M413.2 570.5h0M416.2 571.4h0M510.1 583.4h0" stroke="#ff0000" stroke-width="6.25"/>
<path d="M419.3 572.6h0M422.4 574.1h0M425.5 575.9h0M471.8 619.9h0M474.9 620.4h0M478.0 620.5h0" stroke="#ff0000" stroke-width="6.5"/>
<path d="M428.6 577.6h0M431.7 579.2h0M434.8 580.5h0M437.9 581.7h0M506.5 584.8h0M459.5 616.5h0M462.6 617.5h0M465.6 618.4h0M468.7 619.2h0M481.6 620.2h0M485.1 619.3h0M488.7 618.3h0" stroke="#ff0000" stroke-width="6.75"/>
<path d="M440.9 582.9h0M444.0 584.0h0M447.1 584.9h0M450.2 585.6h0M450.2 612.4h0M453.3 613.9h0M456.4 615.2h0M492.3 617.1h0M495.8 615.6h0" stroke="#ff0000" stroke-width="7"/>
<path d="M453.3 585.9h0M444.0 609.0h0M447.1 610.8h0M499.4 613.9h0M502.9 612.4h0M506.5 611.0h0" stroke="#ff0000" stroke-width="7.25"/>
<path d="M456.4 586.3h0M459.5 586.6h0M502.9 585.8h0M437.9 605.1h0M440.9 607.0h0M510.1 609.5h0M513.6 608.2h0M517.2 607.0h0M520.8 606.1h0" stroke="#ff0000" stroke-width="7.5"/>
<path d="M462.6 586.8h0M465.6 587.1h0M499.4 586.5h0M431.7 601.2h0M434.8 603.1h0M524.3 605.5h0M527.9 604.9h0M531.5 604.5h0M535.0 604.2h0" stroke="#ff0000" stroke-width="7.75"/>
<path d="M468.7 587.3h0M492.3 587.1h0M495.8 587.0h0M422.4 594.9h0M425.5 597.0h0M428.6 599.1h0M538.6 604.3h0M542.2 604.6h0M545.7 605.0h0M549.3 605.5h0" stroke="#ff0000" stroke-width="8"/>
<path d="M471.8 587.4h0M474.9 587.5h0M485.1 587.4h0M488.7 587.3h0M416.2 591.2h0M419.3 593.0h0M552.8 606.0h0M556.4 606.5h0M560.0 607.0h0M563.5 607.6h0M567.1 607.9h0M570.1 607.4h0" stroke="#ff0000" stroke-width="8.25"/>
<path d="M478.0 587.5h0M481.6 587.5h0M410.1 587.8h0M413.2 589.5h0M573.0 606.1h0M576.0 604.2h0M579.0 602.1h0M581.9 599.9h0M584.9 598.1h0M587.9 596.3h0M590.8 594.3h0" stroke="#ff0000" stroke-width="8.5"/>
<path d="M400.8 584.9h0M403.9 585.3h0M407.0 586.3h0M593.8 592.5h0M596.8 590.7h0M599.7 589.1h0M602.7 587.6h0M605.7 586.3h0M608.6 585.2h0M611.6 584.7h0" stroke="#ff0000" stroke-width="8.75"/>
<path d="M563.5 546.7h0M567.1 547.5h0M570.1 546.8h0" stroke="#0000ff" stroke-width="4"/>
<path d="M400.8 546.6h0M403.9 548.2h0M407.0 549.7h0M410.1 551.3h0M413.2 552.9h0M416.2 554.7h0M419.3 556.9h0M422.4 559.5h0M425.5 562.2h0M428.6 564.9h0M431.7 567.2h0M434.8 569.2h0M437.9 570.9h0M440.9 572.5h0" stroke="#0000ff" stroke-width="4.75"/>
<path d="M444.0 573.9h0M447.1 575.2h0" stroke="#0000ff" stroke-width="5"/>
<path d="M450.2 576.4h0M453.3 577.5h0M456.4 578.5h0M459.5 579.4h0M462.6 580.3h0M465.6 581.0h0M468.7 581.7h0M471.8 582.3h0M474.9 582.9h0M478.0 583.1h0M481.6 583.0h0M485.1 582.6h0M488.7 582.0h0M492.3 581.4h0M495.8 580.5h0M499.4 579.3h0M502.9 577.9h0M506.5 576.1h0M510.1 573.8h0M513.6 571.1h0M517.2 568.2h0M520.8 565.3h0M524.3 562.4h0M527.9 559.4h0M531.5 556.1h0M535.0 552.7h0M538.6 549.2h0" stroke="#0000ff" stroke-width="5.25"/>
<path d="M400.8 659.7h0M403.9 659.7h0M407.0 659.6h0M410.1 659.5h0M413.2 659.3h0M416.2 659.2h0M419.3 659.0h0M422.4 658.8h0M425.5 658.6h0M428.6 658.4h0M431.7 658.2h0M434.8 657.9h0M437.9 657.7h0M440.9 657.4h0" stroke="#00e3e3" stroke-width="2"/>
<path d="M560.0 641.2h0M563.5 640.2h0M567.1 639.9h0M570.1 640.5h0M573.0 641.6h0M576.0 643.2h0M579.0 644.9h0M581.9 646.6h0M584.9 648.1h0M587.9 649.6h0M590.8 651.2h0M593.8 652.8h0M596.8 654.3h0M599.7 655.7h0M602.7 657.1h0M605.7 658.4h0M608.6 659.4h0M611.6 659.9h0" stroke="#00e3e3" stroke-width="2.25"/>
<path d="M520.8 655.9h0M524.3 655.0h0M527.9 653.7h0M531.5 652.2h0M535.0 650.6h0M538.6 649.2h0M542.2 647.8h0M545.7 646.4h0M549.3 645.0h0M552.8 643.6h0M556.4 642.4h0" stroke="#00e3e3" stroke-width="2.5"/>
<path d="M444.0 657.2h0" stroke="#00e3e3" stroke-width="3"/>
<path d="M517.2 656.6h0" stroke="#00e3e3" stroke-width="3.5"/>
<path d="M447.1 656.9h0" stroke="#00e3e3" stroke-width="4"/>
<path d="M513.6 657.2h0" stroke="#00e3e3" stroke-width="4.25"/>
<path d="M400.8 671.5h0M403.9 671.5h0M407.0 671.5h0M410.1 671.5h0M413.2 671.5h0M416.2 671.5h0M419.3 671.5h0M422.4 671.5h0M425.5 671.5h0M428.6 671.5h0M431.7 671.5h0M434.8 671.5h0M437.9 671.5h0M440.9 671.5h0M444.0 671.5h0M447.1 671.5h0M450.2 671.5h0M453.3 671.5h0M456.4 671.5h0M459.5 671.5h0M462.6 671.5h0M465.6 671.5h0M468.7 671.5h0M471.8 671.5h0M474.9 671.5h0M478.0 671.5h0M481.6 671.4h0M485.1 671.3h0M488.7 671.1h0M492.3 671.0h0M495.8 670.8h0M499.4 670.6h0M502.9 670.6h0M611.6 671.5h0" stroke="#00e3e3" stroke-width="4.5"/>
<path d="M450.2 656.6h0M506.5 670.6h0M510.1 670.7h0M513.6 670.8h0M605.7 671.6h0M608.6 671.5h0" stroke="#00e3e3" stroke-width="4.75"/>
<path d="M453.3 656.4h0M456.4 656.2h0M459.5 655.9h0M462.6 655.8h0M465.6 655.6h0M468.7 655.5h0M471.8 655.3h0M474.9 655.3h0M478.0 655.3h0M481.6 655.4h0M485.1 655.7h0M488.7 656.0h0M492.3 656.3h0M495.8 656.8h0M499.4 657.2h0M502.9 657.6h0M506.5 657.7h0M510.1 657.6h0M517.2 671.0h0M520.8 671.2h0M524.3 671.5h0M599.7 672.1h0M602.7 671.8h0" stroke="#00e3e3" stroke-width="5"/>
<path d="M527.9 671.7h0M531.5 672.0h0M535.0 672.3h0M593.8 672.7h0M596.8 672.4h0" stroke="#00e3e3" stroke-width="5.25"/>
<path d="M538.6 672.5h0M542.2 672.7h0M545.7 673.0h0M549.3 673.4h0M552.8 673.8h0M556.4 674.1h0M560.0 674.4h0M563.5 674.6h0M567.1 674.7h0M570.1 674.7h0M573.0 674.5h0M576.0 674.3h0M579.0 674.1h0M581.9 673.8h0M584.9 673.5h0M587.9 673.2h0M590.8 672.9h0M400.8 716.5h0M403.9 716.6h0M407.0 716.7h0M410.1 716.8h0M413.2 717.0h0M416.2 717.3h0M419.3 717.6h0M422.4 717.9h0M425.5 718.2h0M428.6 718.6h0M431.7 718.9h0M434.8 719.3h0M437.9 719.7h0M440.9 720.2h0M444.0 720.7h0M447.1 721.2h0M450.2 721.6h0M453.3 722.0h0M456.4 722.5h0M459.5 722.9h0M462.6 723.3h0M465.6 723.7h0M468.7 724.0h0M471.8 724.2h0M474.9 724.4h0M478.0 724.5h0M481.6 724.4h0M485.1 724.1h0M488.7 723.6h0M492.3 723.0h0M495.8 722.4h0M499.4 721.7h0M502.9 721.0h0M506.5 720.3h0M510.1 719.5h0M513.6 718.7h0M517.2 717.8h0M520.8 716.9h0M524.3 716.1h0M527.9 715.3h0M531.5 714.7h0M535.0 714.0h0M538.6 713.4h0M542.2 712.7h0M545.7 712.1h0M549.3 711.5h0M552.8 711.0h0M556.4 710.7h0M560.0 710.4h0M563.5 710.3h0M567.1 710.3h0M570.1 710.5h0M573.0 710.8h0M576.0 711.2h0M579.0 711.6h0M581.9 712.0h0M584.9 712.5h0M587.9 712.9h0M590.8 713.3h0M593.8 713.7h0M596.8 714.2h0M599.7 714.6h0M602.7 715.0h0M605.7 715.4h0M608.6 715.6h0M611.6 715.6h0M400.8 731.3h0M403.9 731.2h0M407.0 731.1h0M410.1 731.0h0M413.2 730.8h0M416.2 730.5h0M419.3 730.3h0M422.4 730.0h0M425.5 729.7h0M428.6 729.4h0M431.7 729.1h0M434.8 728.8h0M437.9 728.5h0M440.9 728.2h0M444.0 727.9h0M447.1 727.6h0M450.2 727.3h0M453.3 727.0h0M456.4 726.7h0M459.5 726.4h0M462.6 726.2h0M465.6 725.9h0M468.7 725.7h0M471.8 725.5h0M474.9 725.4h0M478.0 725.4h0M481.6 725.4h0M485.1 725.5h0M488.7 725.8h0M492.3 726.1h0M495.8 726.4h0M499.4 726.8h0M502.9 727.1h0M506.5 727.5h0M510.1 727.9h0M513.6 728.3h0M517.2 728.8h0M520.8 729.2h0M524.3 729.7h0M527.9 730.2h0M531.5 730.6h0M535.0 731.1h0M538.6 731.5h0M542.2 732.0h0M545.7 732.5h0M549.3 733.0h0M552.8 733.5h0M556.4 734.0h0M560.0 734.4h0M563.5 734.7h0M567.1 734.8h0M570.1 734.8h0M573.0 734.6h0M576.0 734.4h0M579.0 734.2h0M581.9 733.9h0M584.9 733.6h0M587.9 733.3h0M590.8 733.0h0M593.8 732.7h0M596.8 732.4h0M599.7 732.0h0M602.7 731.7h0M605.7 731.4h0M608.6 731.3h0M611.6 731.3h0" stroke="#00e3e3" stroke-width="5.5"/>
<path d="M400.8 703.9h0M403.9 703.9h0M407.0 703.9h0M410.1 703.9h0M413.2 703.9h0M416.2 703.9h0M419.3 704.0h0M422.4 704.0h0M425.5 704.0h0M428.6 704.1h0M431.7 704.1h0M434.8 704.1h0M437.9 704.2h0M440.9 704.2h0M444.0 704.2h0M447.1 704.3h0M450.2 704.3h0M453.3 704.3h0M456.4 704.4h0M459.5 704.4h0M462.6 704.4h0M465.6 704.4h0M468.7 704.4h0M471.8 704.5h0M474.9 704.5h0M478.0 704.5h0M481.6 704.4h0M485.1 704.4h0M488.7 704.4h0M492.3 704.3h0M495.8 704.3h0M499.4 704.2h0M502.9 704.2h0M506.5 704.1h0M510.1 704.1h0M513.6 704.0h0M517.2 703.9h0M520.8 703.9h0M524.3 703.8h0M527.9 703.7h0M531.5 703.7h0M535.0 703.6h0M538.6 703.5h0M542.2 703.4h0M545.7 703.3h0M549.3 703.2h0M552.8 703.2h0M556.4 703.1h0M560.0 703.1h0M563.5 703.0h0M567.1 703.0h0M570.1 703.0h0M573.0 703.0h0M576.0 703.0h0M579.0 703.1h0M581.9 703.2h0M584.9 703.2h0M587.9 703.3h0M590.8 703.4h0M593.8 703.5h0M596.8 703.6h0M599.7 703.7h0M602.7 703.7h0M605.7 703.8h0M608.6 703.8h0M611.6 703.9h0M400.8 708.9h0M403.9 708.9h0M407.0 708.9h0M410.1 708.9h0M413.2 709.0h0M416.2 709.0h0M419.3 709.0h0M422.4 709.1h0M425.5 709.1h0M428.6 709.2h0M431.7 709.3h0M434.8 709.3h0M437.9 709.4h0M440.9 709.5h0M444.0 709.6h0M447.1 709.8h0M450.2 710.0h0M453.3 710.2h0M456.4 710.5h0M459.5 710.8h0M462.6 711.1h0M465.6 711.3h0M468.7 711.5h0M471.8 711.7h0M474.9 711.8h0M478.0 711.8h0M481.6 711.8h0M485.1 711.7h0M488.7 711.6h0M492.3 711.5h0M495.8 711.4h0M499.4 711.2h0M502.9 711.1h0M506.5 710.9h0M510.1 710.8h0M513.6 710.6h0M517.2 710.5h0M520.8 710.3h0M524.3 710.2h0M527.9 710.1h0M531.5 709.9h0M535.0 709.8h0M538.6 709.6h0M542.2 709.5h0M545.7 709.4h0M549.3 709.2h0M552.8 709.1h0M556.4 709.0h0M560.0 708.9h0M563.5 708.9h0M567.1 708.9h0M570.1 708.9h0M573.0 708.9h0M576.0 708.9h0M579.0 708.9h0M581.9 708.9h0M584.9 708.9h0M587.9 708.9h0M590.8 708.9h0M593.8 708.9h0M596.8 708.9h0M599.7 708.9h0M602.7 708.9h0M605.7 708.9h0M608.6 708.9h0M611.6 708.9h0" stroke="#00e3e3" stroke-width="6.5"/>
<path d="M506.5 727.4h0" stroke="#ff0000" stroke-width="2"/>
<path d="M447.1 727.0h0" stroke="#ff0000" stroke-width="2.5"/>
<path d="M450.2 726.8h0M502.9 727.2h0" stroke="#ff0000" stroke-width="3"/>
<path d="M453.3 726.7h0" stroke="#ff0000" stroke-width="3.5"/>
<path d="M499.4 726.9h0" stroke="#ff0000" stroke-width="3.75"/>
<path d="M456.4 726.6h0" stroke="#ff0000" stroke-width="4"/>
<path d="M459.5 726.5h0M495.8 726.8h0" stroke="#ff0000" stroke-width="4.5"/>
<path d="M462.6 726.6h0M492.3 726.8h0" stroke="#ff0000" stroke-width="4.75"/>
<path d="M465.6 726.6h0M488.7 726.8h0" stroke="#ff0000" stroke-width="5"/>
<path d="M468.7 726.7h0M471.8 726.7h0M485.1 726.8h0" stroke="#ff0000" stroke-width="5.25"/>
<path d="M474.9 726.8h0M481.6 726.9h0" stroke="#ff0000" stroke-width="5.5"/>
<path d="M478.0 726.8h0" stroke="#ff0000" stroke-width="5.75"/>
<path d="M400.8 752.8h0M403.9 752.7h0M407.0 752.5h0M410.1 752.2h0M413.2 751.8h0M416.2 751.3h0M419.3 750.8h0M422.4 750.2h0M425.5 749.6h0M428.6 748.9h0M431.7 748.2h0M434.8 747.6h0M437.9 746.7h0M440.9 745.8h0M444.0 744.7h0M447.1 743.7h0M450.2 742.8h0M506.5 744.2h0M510.1 745.1h0M513.6 746.1h0M517.2 747.0h0M520.8 747.7h0M524.3 748.2h0M527.9 748.7h0M531.5 749.1h0M535.0 749.4h0M538.6 749.5h0M542.2 749.5h0M545.7 749.5h0M549.3 749.4h0M587.9 750.7h0M590.8 751.0h0M593.8 751.2h0M596.8 751.5h0M599.7 751.8h0M602.7 752.0h0M605.7 752.3h0M608.6 752.6h0M611.6 753.0h0" stroke="#fff200" stroke-width="2.25"/>
<path d="M552.8 749.3h0M584.9 750.5h0" stroke="#fff200" stroke-width="2.5"/>
<path d="M453.3 742.1h0M502.9 743.3h0M581.9 750.2h0" stroke="#fff200" stroke-width="2.75"/>
<path d="M556.4 749.2h0M579.0 750.0h0" stroke="#fff200" stroke-width="3"/>
<path d="M456.4 741.3h0" stroke="#fff200" stroke-width="3.25"/>
<path d="M499.4 742.4h0M560.0 749.1h0M563.5 749.1h0M567.1 749.2h0M570.1 749.4h0M573.0 749.5h0M576.0 749.7h0" stroke="#fff200" stroke-width="3.5"/>
<path d="M459.5 740.5h0" stroke="#fff200" stroke-width="4"/>
<path d="M462.6 739.8h0M465.6 739.1h0M468.7 738.6h0M471.8 738.2h0M474.9 738.0h0M478.0 738.0h0M481.6 738.3h0M485.1 738.9h0M488.7 739.7h0M492.3 740.5h0M495.8 741.5h0" stroke="#fff200" stroke-width="4.25"/>
<path d="M400.8 708.9h0M403.9 708.9h0M407.0 708.9h0M410.1 708.9h0M413.2 709.0h0M416.2 709.0h0M419.3 709.0h0M422.4 709.1h0M425.5 709.1h0M428.6 709.2h0M431.7 709.3h0M434.8 709.3h0M437.9 709.4h0M440.9 709.5h0M444.0 709.6h0M447.1 709.8h0M450.2 710.0h0M453.3 710.2h0M456.4 710.5h0M459.5 710.8h0M462.6 711.1h0M465.6 711.3h0M468.7 711.5h0M471.8 711.7h0M474.9 711.8h0M478.0 711.8h0M481.6 711.8h0M485.1 711.7h0M488.7 711.6h0M492.3 711.5h0M495.8 711.4h0M499.4 711.2h0M502.9 711.1h0M506.5 710.9h0M510.1 710.8h0M513.6 710.6h0M517.2 710.5h0M520.8 710.3h0M524.3 710.2h0M527.9 710.1h0M531.5 709.9h0M535.0 709.8h0M538.6 709.6h0M542.2 709.5h0M545.7 709.4h0M549.3 709.2h0M552.8 709.1h0M556.4 709.0h0M560.0 708.9h0M563.5 708.9h0M567.1 708.9h0M570.1 708.9h0M573.0 708.9h0M576.0 708.9h0M579.0 708.9h0M581.9 708.9h0M584.9 708.9h0M587.9 708.9h0M590.8 708.9h0M593.8 708.9h0M596.8 708.9h0M599.7 708.9h0M602.7 708.9h0M605.7 708.9h0M608.6 708.9h0M611.6 708.9h0" stroke="#3399cc" stroke-width="1.25"/>
<path d="M400.8 703.9h0M403.9 703.9h0M407.0 703.9h0M410.1 703.9h0M413.2 703.9h0M416.2 703.9h0M419.3 704.0h0M422.4 704.0h0M425.5 704.0h0M428.6 704.1h0M431.7 704.1h0M434.8 704.1h0M437.9 704.2h0M440.9 704.2h0M444.0 704.2h0M447.1 704.3h0M450.2 704.3h0M453.3 704.3h0M456.4 704.4h0M459.5 704.4h0M462.6 704.4h0M465.6 704.4h0M468.7 704.4h0M471.8 704.5h0M474.9 704.5h0M478.0 704.5h0M481.6 704.4h0M485.1 704.4h0M488.7 704.4h0M492.3 704.3h0M495.8 704.3h0M499.4 704.2h0M502.9 704.2h0M506.5 704.1h0M510.1 704.1h0M513.6 704.0h0M517.2 703.9h0M520.8 703.9h0M524.3 703.8h0M527.9 703.7h0M531.5 703.7h0M535.0 703.6h0M538.6 703.5h0M542.2 703.4h0M545.7 703.3h0M549.3 703.2h0M552.8 703.2h0M556.4 703.1h0M560.0 703.1h0M563.5 703.0h0M567.1 703.0h0M570.1 703.0h0M573.0 703.0h0M576.0 703.0h0M579.0 703.1h0M581.9 703.2h0M584.9 703.2h0M587.9 703.3h0M590.8 703.4h0M593.8 703.5h0M596.8 703.6h0M599.7 703.7h0M602.7 703.7h0M605.7 703.8h0M608.6 703.8h0M611.6 703.9h0" stroke="#33aaaa" stroke-width="1.25"/>
<path d="M517.2 579.8h0" stroke="#660066" stroke-width="0.5"/>
<path d="M573.0 556.0h0" stroke="#660066" stroke-width="1"/>
<path d="M520.8 577.9h0M524.3 575.9h0M527.9 573.7h0M531.5 571.3h0M535.0 569.1h0M538.6 567.0h0M542.2 565.3h0M545.7 563.6h0M549.3 562.1h0M552.8 560.6h0M556.4 559.1h0M560.0 557.4h0M563.5 555.7h0M567.1 554.8h0M570.1 555.2h0" stroke="#660066" stroke-width="1.5"/>
<path d="M524.3 655.0h0" stroke="#663366" stroke-width="1.25"/>
<path d="M527.9 653.7h0M531.5 652.2h0M535.0 650.6h0M538.6 649.2h0M542.2 647.8h0M545.7 646.4h0M549.3 645.0h0M552.8 643.6h0M556.4 642.4h0M560.0 641.2h0M563.5 640.2h0M567.1 639.9h0M570.1 640.5h0M573.0 641.6h0M576.0 643.2h0M579.0 644.9h0M581.9 646.6h0M584.9 648.1h0M587.9 649.6h0M590.8 651.2h0M593.8 652.8h0M596.8 654.3h0M599.7 655.7h0M602.7 657.1h0M605.7 658.4h0M608.6 659.4h0M611.6 659.9h0" stroke="#663366" stroke-width="1.5"/>
<path d="M549.3 711.5h0" stroke="#0000ff" stroke-width="0.25"/>
<path d="M587.9 712.9h0" stroke="#0000ff" stroke-width="0.5"/>
<path d="M545.7 712.1h0" stroke="#0000ff" stroke-width="1"/>
<path d="M590.8 713.3h0M593.8 713.7h0M596.8 714.2h0M599.7 714.6h0M602.7 715.0h0M605.7 715.4h0M608.6 715.6h0M611.6 715.6h0" stroke="#0000ff" stroke-width="1.5"/>
<path d="M542.2 712.7h0" stroke="#0000ff" stroke-width="1.75"/>
<path d="M400.8 716.5h0M403.9 716.6h0M407.0 716.7h0M410.1 716.8h0M413.2 717.0h0M416.2 717.3h0M419.3 717.6h0M422.4 717.9h0M425.5 718.2h0M428.6 718.6h0M431.7 718.9h0M434.8 719.3h0M437.9 719.7h0M440.9 720.2h0M444.0 720.7h0M447.1 721.2h0M450.2 721.6h0M453.3 722.0h0M456.4 722.5h0M459.5 722.9h0M462.6 723.3h0M465.6 723.7h0M468.7 724.0h0M471.8 724.2h0M474.9 724.4h0M478.0 724.5h0M481.6 724.4h0M485.1 724.1h0M488.7 723.6h0M492.3 723.0h0M495.8 722.4h0M499.4 721.7h0M502.9 721.0h0M506.5 720.3h0M510.1 719.5h0M513.6 718.7h0M517.2 717.8h0M520.8 716.9h0M524.3 716.1h0M527.9 715.3h0M531.5 714.7h0M535.0 714.0h0M538.6 713.4h0M400.8 731.3h0M403.9 731.2h0M407.0 731.1h0M410.1 731.0h0M413.2 730.8h0M416.2 730.5h0M419.3 730.3h0M422.4 730.0h0M425.5 729.7h0M428.6 729.4h0M431.7 729.1h0M434.8 728.8h0M437.9 728.5h0M440.9 728.2h0M444.0 727.9h0M447.1 727.6h0M450.2 727.3h0M453.3 727.0h0M456.4 726.7h0M459.5 726.4h0M462.6 726.2h0M465.6 725.9h0M468.7 725.7h0M471.8 725.5h0M474.9 725.4h0M478.0 725.4h0M481.6 725.4h0M485.1 725.5h0M488.7 725.8h0M492.3 726.1h0M495.8 726.4h0M499.4 726.8h0M502.9 727.1h0M506.5 727.5h0M510.1 727.9h0M513.6 728.3h0M517.2 728.8h0M520.8 729.2h0M524.3 729.7h0M527.9 730.2h0M531.5 730.6h0M535.0 731.1h0M538.6 731.5h0M542.2 732.0h0M545.7 732.5h0M549.3 733.0h0M552.8 733.5h0M556.4 734.0h0M560.0 734.4h0M563.5 734.7h0M567.1 734.8h0M570.1 734.8h0M573.0 734.6h0M576.0 734.4h0M579.0 734.2h0M581.9 733.9h0M584.9 733.6h0M587.9 733.3h0M590.8 733.0h0M593.8 732.7h0M596.8 732.4h0M599.7 732.0h0M602.7 731.7h0M605.7 731.4h0M608.6 731.3h0M611.6 731.3h0" stroke="#0000ff" stroke-width="2"/>
<path d="M400.8 671.5h0M403.9 671.5h0M407.0 671.5h0M410.1 671.5h0M413.2 671.5h0M416.2 671.5h0M419.3 671.5h0M422.4 671.5h0M425.5 671.5h0M428.6 671.5h0M431.7 671.5h0M434.8 671.5h0M437.9 671.5h0M440.9 671.5h0M444.0 671.5h0M447.1 671.5h0M450.2 671.5h0M453.3 671.5h0M456.4 671.5h0M459.5 671.5h0M462.6 671.5h0M465.6 671.5h0M468.7 671.5h0M471.8 671.5h0M474.9 671.5h0M478.0 671.5h0M481.6 671.4h0M485.1 671.3h0M488.7 671.1h0M492.3 671.0h0M495.8 670.8h0M499.4 670.6h0M502.9 670.6h0M506.5 670.6h0M510.1 670.7h0M513.6 670.8h0M517.2 671.0h0M520.8 671.2h0M524.3 671.5h0M527.9 671.7h0M531.5 672.0h0M535.0 672.3h0M538.6 672.5h0M542.2 672.7h0M545.7 673.0h0M549.3 673.4h0M552.8 673.8h0M556.4 674.1h0M560.0 674.4h0M563.5 674.6h0M567.1 674.7h0M570.1 674.7h0M573.0 674.5h0M576.0 674.3h0M579.0 674.1h0M581.9 673.8h0M584.9 673.5h0M587.9 673.2h0M590.8 672.9h0M593.8 672.7h0M596.8 672.4h0M599.7 672.1h0M602.7 671.8h0M605.7 671.6h0M608.6 671.5h0M611.6 671.5h0" stroke="#ff0000" stroke-width="2.5"/>
<path d="M579.0 558.2h0" stroke="#fff200" stroke-width="0.5"/>
<path d="M506.5 584.8h0" stroke="#fff200" stroke-width="0.75"/>
<path d="M581.9 559.4h0" stroke="#fff200" stroke-width="1"/>
<path d="M502.9 612.4h0" stroke="#fff200" stroke-width="1.25"/>
<path d="M520.8 565.3h0M524.3 562.4h0M527.9 559.4h0M531.5 556.1h0M535.0 552.7h0M538.6 549.2h0M502.9 585.8h0" stroke="#fff200" stroke-width="1.5"/>
<path d="M444.0 573.9h0M584.9 560.3h0M587.9 561.3h0M590.8 562.3h0M593.8 563.3h0M596.8 564.2h0M599.7 565.2h0M602.7 566.0h0M605.7 566.8h0M608.6 567.5h0M611.6 568.0h0M410.1 587.8h0" stroke="#fff200" stroke-width="1.75"/>
<path d="M517.2 568.2h0M400.8 568.7h0M403.9 568.8h0M407.0 569.2h0M410.1 569.8h0M413.2 570.5h0M416.2 571.4h0M419.3 572.6h0M422.4 574.1h0M425.5 575.9h0M428.6 577.6h0M431.7 579.2h0M434.8 580.5h0M437.9 581.7h0M440.9 582.9h0M444.0 584.0h0M447.1 584.9h0M450.2 585.6h0M453.3 585.9h0M456.4 586.3h0M459.5 586.6h0M462.6 586.8h0M465.6 587.1h0M468.7 587.3h0M471.8 587.4h0M474.9 587.5h0M478.0 587.5h0M481.6 587.5h0M485.1 587.4h0M488.7 587.3h0M492.3 587.1h0M495.8 587.0h0M499.4 586.5h0M413.2 589.5h0M416.2 591.2h0M419.3 593.0h0M422.4 594.9h0M425.5 597.0h0M428.6 599.1h0M431.7 601.2h0M434.8 603.1h0M437.9 605.1h0M440.9 607.0h0M444.0 609.0h0M447.1 610.8h0M450.2 612.4h0M453.3 613.9h0M456.4 615.2h0M459.5 616.5h0M462.6 617.5h0M465.6 618.4h0M468.7 619.2h0M471.8 619.9h0M474.9 620.4h0M478.0 620.5h0M481.6 620.2h0M485.1 619.3h0M488.7 618.3h0M492.3 617.1h0M495.8 615.6h0M499.4 613.9h0M400.8 760.1h0M403.9 760.1h0M407.0 760.1h0M410.1 760.1h0M413.2 760.1h0M416.2 760.1h0M419.3 760.1h0M422.4 760.1h0M425.5 760.1h0M428.6 760.1h0M431.7 760.1h0M434.8 760.1h0M437.9 760.1h0M440.9 760.1h0M444.0 760.1h0M447.1 760.1h0M450.2 760.1h0M453.3 760.1h0M456.4 760.1h0M459.5 760.1h0M462.6 760.1h0M465.6 760.1h0M468.7 760.1h0M471.8 760.1h0M474.9 760.1h0M478.0 760.1h0M481.6 760.1h0M485.1 760.2h0M488.7 760.4h0M492.3 760.5h0M495.8 760.7h0M499.4 760.8h0M502.9 761.0h0M506.5 761.2h0M510.1 761.4h0M513.6 761.6h0M517.2 761.9h0M520.8 762.2h0M524.3 762.5h0M527.9 762.9h0M531.5 763.2h0M535.0 763.6h0M538.6 763.9h0M542.2 764.2h0M545.7 764.5h0M549.3 764.8h0M552.8 765.0h0M556.4 765.2h0M560.0 765.3h0M563.5 765.4h0M567.1 765.4h0M570.1 765.4h0M573.0 765.2h0M576.0 764.9h0M579.0 764.6h0M581.9 764.1h0M584.9 763.7h0M587.9 763.1h0M590.8 762.6h0M593.8 762.0h0M596.8 761.4h0M599.7 760.9h0M602.7 760.4h0M605.7 759.9h0M608.6 759.4h0M611.6 759.0h0" stroke="#fff200" stroke-width="2"/>
<path d="M513.6 571.1h0" stroke="#fff200" stroke-width="2.25"/>
<path d="M447.1 575.2h0M450.2 576.4h0M453.3 577.5h0M456.4 578.5h0M459.5 579.4h0M462.6 580.3h0M465.6 581.0h0M468.7 581.7h0M471.8 582.3h0M474.9 582.9h0M478.0 583.1h0M481.6 583.0h0M485.1 582.6h0M488.7 582.0h0M492.3 581.4h0M495.8 580.5h0M499.4 579.3h0M502.9 577.9h0M506.5 576.1h0M510.1 573.8h0" stroke="#fff200" stroke-width="2.5"/></g>
<g><line x1="478.0" y1="546.9" x2="478.0" y2="782.5" stroke="#c8c8c8" stroke-width="1.4" stroke-dasharray="6.2 2.7 1.9 2.5" stroke-dashoffset="8.4"/>
<line x1="567.1" y1="546.9" x2="567.1" y2="782.5" stroke="#c8c8c8" stroke-width="1.4" stroke-dasharray="6.2 2.7 1.9 2.5" stroke-dashoffset="8.4"/>
<line x1="400.8" y1="664.9" x2="611.6" y2="664.9" stroke="#000" stroke-width="1.4" stroke-dasharray="4.5 5.9"/></g>


<path d="M396.2 782.50h4.6M398.2 767.77h2.6M396.2 753.05h4.6M398.2 738.33h2.6M396.2 723.60h4.6M398.2 708.88h2.6M396.2 694.15h4.6M398.2 679.42h2.6M396.2 664.70h4.6M398.2 649.98h2.6M396.2 635.25h4.6M398.2 620.52h2.6M396.2 605.80h4.6M398.2 591.07h2.6M396.2 576.35h4.6M398.2 561.62h2.6M396.2 546.90h4.6" stroke="#000" stroke-width="1.6"/>
<text transform="translate(393.2 787.7) scale(1 1.08)" class="tl">4</text>
<rect x="380.6" y="782.9" width="4.4" height="1.5"/>
<text transform="translate(393.2 758.2) scale(1 1.08)" class="tl">3</text>
<rect x="380.6" y="753.4" width="4.4" height="1.5"/>
<text transform="translate(393.2 728.8) scale(1 1.08)" class="tl">2</text>
<rect x="380.6" y="724.0" width="4.4" height="1.5"/>
<text transform="translate(393.2 699.4) scale(1 1.08)" class="tl">1</text>
<rect x="380.6" y="694.5" width="4.4" height="1.5"/>
<text transform="translate(393.2 669.9) scale(1 1.08)" class="tl">0</text>
<text transform="translate(393.2 640.5) scale(1 1.08)" class="tl">1</text>
<text transform="translate(393.2 611.0) scale(1 1.08)" class="tl">2</text>
<text transform="translate(393.2 581.6) scale(1 1.08)" class="tl">3</text>
<text transform="translate(393.2 552.1) scale(1 1.08)" class="tl">4</text>
<text transform="translate(406.4 801.9) scale(1 1.06)" class="xl">M</text>
<text transform="translate(479.8 801.9) scale(1 1.06)" class="xl">&#915;</text>
<text transform="translate(566.4 801.9) scale(1 1.06)" class="xl">K</text>
<text transform="translate(605.8 801.9) scale(1 1.06)" class="xl">M</text>
<text transform="translate(374.6 664.7) rotate(-90)" class="yl">Energy (eV)</text>
<text x="337.0" y="553.0" class="pl">(f)</text>
</svg></body></html>
